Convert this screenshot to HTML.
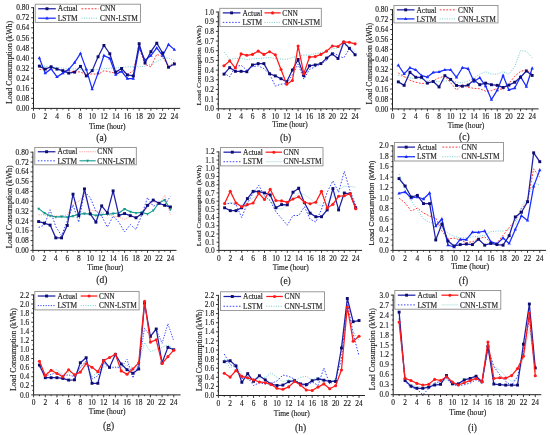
<!DOCTYPE html><html><head><meta charset="utf-8"><title>Load consumption forecasts</title><style>html,body{margin:0;padding:0;background:#fff;}svg{display:block;font-family:"Liberation Serif", serif;filter:blur(0.3px);}text{stroke:#1e1e1e;stroke-width:0.15px;}</style></head><body>
<svg width="550" height="435" viewBox="0 0 550 435">
<rect width="550" height="435" fill="#fff"/>
<g><path d="M33.5 7.18 V108.4 H180.2" fill="none" stroke="#222" stroke-width="1"/>
<text transform="translate(29.2,111) scale(0.93,1)" font-size="8.0" text-anchor="end" fill="#1e1e1e">0.00</text>
<text transform="translate(29.2,100.93) scale(0.93,1)" font-size="8.0" text-anchor="end" fill="#1e1e1e">0.08</text>
<text transform="translate(29.2,90.86) scale(0.93,1)" font-size="8.0" text-anchor="end" fill="#1e1e1e">0.16</text>
<text transform="translate(29.2,80.78) scale(0.93,1)" font-size="8.0" text-anchor="end" fill="#1e1e1e">0.24</text>
<text transform="translate(29.2,70.71) scale(0.93,1)" font-size="8.0" text-anchor="end" fill="#1e1e1e">0.32</text>
<text transform="translate(29.2,60.64) scale(0.93,1)" font-size="8.0" text-anchor="end" fill="#1e1e1e">0.40</text>
<text transform="translate(29.2,50.57) scale(0.93,1)" font-size="8.0" text-anchor="end" fill="#1e1e1e">0.48</text>
<text transform="translate(29.2,40.5) scale(0.93,1)" font-size="8.0" text-anchor="end" fill="#1e1e1e">0.56</text>
<text transform="translate(29.2,30.42) scale(0.93,1)" font-size="8.0" text-anchor="end" fill="#1e1e1e">0.64</text>
<text transform="translate(29.2,20.35) scale(0.93,1)" font-size="8.0" text-anchor="end" fill="#1e1e1e">0.72</text>
<text transform="translate(29.2,10.28) scale(0.93,1)" font-size="8.0" text-anchor="end" fill="#1e1e1e">0.80</text>
<text transform="translate(33.5,118.7) scale(0.93,1)" font-size="8.0" text-anchor="middle" fill="#1e1e1e">0</text>
<text transform="translate(45.24,118.7) scale(0.93,1)" font-size="8.0" text-anchor="middle" fill="#1e1e1e">2</text>
<text transform="translate(56.98,118.7) scale(0.93,1)" font-size="8.0" text-anchor="middle" fill="#1e1e1e">4</text>
<text transform="translate(68.72,118.7) scale(0.93,1)" font-size="8.0" text-anchor="middle" fill="#1e1e1e">6</text>
<text transform="translate(80.46,118.7) scale(0.93,1)" font-size="8.0" text-anchor="middle" fill="#1e1e1e">8</text>
<text transform="translate(92.2,118.7) scale(0.93,1)" font-size="8.0" text-anchor="middle" fill="#1e1e1e">10</text>
<text transform="translate(103.94,118.7) scale(0.93,1)" font-size="8.0" text-anchor="middle" fill="#1e1e1e">12</text>
<text transform="translate(115.68,118.7) scale(0.93,1)" font-size="8.0" text-anchor="middle" fill="#1e1e1e">14</text>
<text transform="translate(127.42,118.7) scale(0.93,1)" font-size="8.0" text-anchor="middle" fill="#1e1e1e">16</text>
<text transform="translate(139.16,118.7) scale(0.93,1)" font-size="8.0" text-anchor="middle" fill="#1e1e1e">18</text>
<text transform="translate(150.9,118.7) scale(0.93,1)" font-size="8.0" text-anchor="middle" fill="#1e1e1e">20</text>
<text transform="translate(162.64,118.7) scale(0.93,1)" font-size="8.0" text-anchor="middle" fill="#1e1e1e">22</text>
<text transform="translate(174.38,118.7) scale(0.93,1)" font-size="8.0" text-anchor="middle" fill="#1e1e1e">24</text>
<path d="M31.1 108.4H33.5M32.2 103.36H33.5M31.1 98.33H33.5M32.2 93.29H33.5M31.1 88.26H33.5M32.2 83.22H33.5M31.1 78.18H33.5M32.2 73.15H33.5M31.1 68.11H33.5M32.2 63.08H33.5M31.1 58.04H33.5M32.2 53H33.5M31.1 47.97H33.5M32.2 42.93H33.5M31.1 37.9H33.5M32.2 32.86H33.5M31.1 27.82H33.5M32.2 22.79H33.5M31.1 17.75H33.5M32.2 12.72H33.5M31.1 7.68H33.5M33.5 108.4V110.8M39.37 108.4V109.7M45.24 108.4V110.8M51.11 108.4V109.7M56.98 108.4V110.8M62.85 108.4V109.7M68.72 108.4V110.8M74.59 108.4V109.7M80.46 108.4V110.8M86.33 108.4V109.7M92.2 108.4V110.8M98.07 108.4V109.7M103.94 108.4V110.8M109.81 108.4V109.7M115.68 108.4V110.8M121.55 108.4V109.7M127.42 108.4V110.8M133.29 108.4V109.7M139.16 108.4V110.8M145.03 108.4V109.7M150.9 108.4V110.8M156.77 108.4V109.7M162.64 108.4V110.8M168.51 108.4V109.7M174.38 108.4V110.8" stroke="#222" stroke-width="0.9"/>
<path d="M39.37 64.96 L45.24 66.22 L51.11 66.85 L56.98 67.48 L62.85 68.11 L68.72 68.74 L74.59 68.74 L80.46 69.37 L86.33 69.37 L92.2 70 L98.07 69.37 L103.94 68.74 L109.81 68.11 L115.68 68.11 L121.55 67.48 L127.42 66.85 L133.29 66.85 L139.16 66.85 L145.03 66.22 L150.9 64.34 L156.77 61.82 L162.64 58.04 L168.51 58.04 L174.38 60.56" fill="none" stroke="#40bcbc" stroke-width="0.75" stroke-linejoin="round" stroke-dasharray="1,1.4"/>
<path d="M39.37 69.37 L45.24 69.37 L51.11 67.48 L56.98 68.74 L62.85 70.63 L68.72 70.63 L74.59 71.89 L80.46 71.89 L86.33 75.04 L92.2 73.78 L98.07 74.41 L103.94 70.63 L109.81 71.89 L115.68 73.15 L121.55 70.63 L127.42 74.41 L133.29 70.63 L139.16 47.97 L145.03 64.34 L150.9 66.85 L156.77 54.26 L162.64 56.78 L168.51 66.85 L174.38 61.82" fill="none" stroke="#ff3030" stroke-width="0.95" stroke-linejoin="round" stroke-dasharray="1.8,1.5"/>
<path d="M39.37 58.04 L45.24 73.15 L51.11 68.87 L56.98 76.93 L62.85 73.15 L68.72 69.37 L74.59 62.57 L80.46 53.38 L86.33 69.37 L92.2 89.14 L98.07 73.15 L103.94 55.52 L109.81 58.42 L115.68 74.66 L121.55 71.26 L127.42 78.56 L133.29 78.56 L139.16 47.34 L145.03 60.18 L150.9 55.52 L156.77 47.97 L162.64 55.52 L168.51 44.57 L174.38 49.6" fill="none" stroke="#1a2cff" stroke-width="1.25" stroke-linejoin="round"/><path d="M39.37 56.09L41.07 59.21L37.67 59.21Z" fill="#1a2cff"/><path d="M45.24 71.19L46.94 74.32L43.54 74.32Z" fill="#1a2cff"/><path d="M51.11 66.91L52.81 70.04L49.41 70.04Z" fill="#1a2cff"/><path d="M56.98 74.97L58.68 78.1L55.28 78.1Z" fill="#1a2cff"/><path d="M62.85 71.19L64.55 74.32L61.15 74.32Z" fill="#1a2cff"/><path d="M68.72 67.42L70.42 70.54L67.02 70.54Z" fill="#1a2cff"/><path d="M74.59 60.62L76.29 63.75L72.89 63.75Z" fill="#1a2cff"/><path d="M80.46 51.43L82.16 54.55L78.76 54.55Z" fill="#1a2cff"/><path d="M86.33 67.42L88.03 70.54L84.63 70.54Z" fill="#1a2cff"/><path d="M92.2 87.18L93.9 90.31L90.5 90.31Z" fill="#1a2cff"/><path d="M98.07 71.19L99.77 74.32L96.37 74.32Z" fill="#1a2cff"/><path d="M103.94 53.57L105.64 56.7L102.24 56.7Z" fill="#1a2cff"/><path d="M109.81 56.46L111.51 59.59L108.11 59.59Z" fill="#1a2cff"/><path d="M115.68 72.7L117.38 75.83L113.98 75.83Z" fill="#1a2cff"/><path d="M121.55 69.3L123.25 72.43L119.85 72.43Z" fill="#1a2cff"/><path d="M127.42 76.61L129.12 79.73L125.72 79.73Z" fill="#1a2cff"/><path d="M133.29 76.61L134.99 79.73L131.59 79.73Z" fill="#1a2cff"/><path d="M139.16 45.38L140.86 48.51L137.46 48.51Z" fill="#1a2cff"/><path d="M145.03 58.23L146.73 61.35L143.33 61.35Z" fill="#1a2cff"/><path d="M150.9 53.57L152.6 56.7L149.2 56.7Z" fill="#1a2cff"/><path d="M156.77 46.01L158.47 49.14L155.07 49.14Z" fill="#1a2cff"/><path d="M162.64 53.57L164.34 56.7L160.94 56.7Z" fill="#1a2cff"/><path d="M168.51 42.61L170.21 45.74L166.81 45.74Z" fill="#1a2cff"/><path d="M174.38 47.65L176.08 50.78L172.68 50.78Z" fill="#1a2cff"/>
<path d="M39.37 66.1 L45.24 69.12 L51.11 66.73 L56.98 69.12 L62.85 70.63 L68.72 73.15 L74.59 72.14 L80.46 66.35 L86.33 75.92 L92.2 70.63 L98.07 56.78 L103.94 45.45 L109.81 53.76 L115.68 72.14 L121.55 68.49 L127.42 74.91 L133.29 75.92 L139.16 43.69 L145.03 63.08 L150.9 51.62 L156.77 43.18 L162.64 53 L168.51 67.23 L174.38 63.96" fill="none" stroke="#1e1ea6" stroke-width="1.25" stroke-linejoin="round"/><rect x="37.92" y="64.65" width="2.9" height="2.9" fill="#0c0c70"/><rect x="43.79" y="67.67" width="2.9" height="2.9" fill="#0c0c70"/><rect x="49.66" y="65.28" width="2.9" height="2.9" fill="#0c0c70"/><rect x="55.53" y="67.67" width="2.9" height="2.9" fill="#0c0c70"/><rect x="61.4" y="69.18" width="2.9" height="2.9" fill="#0c0c70"/><rect x="67.27" y="71.7" width="2.9" height="2.9" fill="#0c0c70"/><rect x="73.14" y="70.69" width="2.9" height="2.9" fill="#0c0c70"/><rect x="79.01" y="64.9" width="2.9" height="2.9" fill="#0c0c70"/><rect x="84.88" y="74.47" width="2.9" height="2.9" fill="#0c0c70"/><rect x="90.75" y="69.18" width="2.9" height="2.9" fill="#0c0c70"/><rect x="96.62" y="55.33" width="2.9" height="2.9" fill="#0c0c70"/><rect x="102.49" y="44" width="2.9" height="2.9" fill="#0c0c70"/><rect x="108.36" y="52.31" width="2.9" height="2.9" fill="#0c0c70"/><rect x="114.23" y="70.69" width="2.9" height="2.9" fill="#0c0c70"/><rect x="120.1" y="67.04" width="2.9" height="2.9" fill="#0c0c70"/><rect x="125.97" y="73.46" width="2.9" height="2.9" fill="#0c0c70"/><rect x="131.84" y="74.47" width="2.9" height="2.9" fill="#0c0c70"/><rect x="137.71" y="42.24" width="2.9" height="2.9" fill="#0c0c70"/><rect x="143.58" y="61.63" width="2.9" height="2.9" fill="#0c0c70"/><rect x="149.45" y="50.17" width="2.9" height="2.9" fill="#0c0c70"/><rect x="155.32" y="41.73" width="2.9" height="2.9" fill="#0c0c70"/><rect x="161.19" y="51.55" width="2.9" height="2.9" fill="#0c0c70"/><rect x="167.06" y="65.78" width="2.9" height="2.9" fill="#0c0c70"/><rect x="172.93" y="62.51" width="2.9" height="2.9" fill="#0c0c70"/>
<rect x="35.2" y="4.2" width="105.3" height="18.2" fill="#fff" stroke="#888" stroke-width="0.85"/>
<path d="M38.2 8.75 L55.8 8.75" fill="none" stroke="#1e1ea6" stroke-width="1.25" stroke-linejoin="round"/>
<rect x="45.55" y="7.3" width="2.9" height="2.9" fill="#0c0c70"/>
<text transform="translate(57.8,11.45) scale(0.93,1)" font-size="8.0" text-anchor="start" fill="#1e1e1e">Actual</text>
<path d="M81.53 8.75 L98.38 8.75" fill="none" stroke="#ff3030" stroke-width="0.95" stroke-linejoin="round" stroke-dasharray="1.8,1.5"/>
<text transform="translate(99.96,11.45) scale(0.93,1)" font-size="8.0" text-anchor="start" fill="#1e1e1e">CNN</text>
<path d="M38.2 18.21 L55.8 18.21" fill="none" stroke="#1a2cff" stroke-width="1.25" stroke-linejoin="round"/>
<path d="M47 16.26L48.7 19.39L45.3 19.39Z" fill="#1a2cff"/>
<text transform="translate(57.8,20.91) scale(0.93,1)" font-size="8.0" text-anchor="start" fill="#1e1e1e">LSTM</text>
<path d="M81.53 18.21 L98.38 18.21" fill="none" stroke="#40bcbc" stroke-width="0.75" stroke-linejoin="round" stroke-dasharray="1,1.4"/>
<text transform="translate(99.96,20.91) scale(0.93,1)" font-size="8.0" text-anchor="start" fill="#1e1e1e">CNN-LSTM</text>
<text transform="translate(11.77,62.45) rotate(-90) scale(1,0.93)" font-size="7.9" text-anchor="middle" fill="#1e1e1e">Load Consumption (kWh)</text>
<text transform="translate(107.3,129.3) scale(0.93,1)" font-size="8.2" text-anchor="middle" fill="#1e1e1e">Time (hour)</text>
<text transform="translate(101.5,141.4) scale(1.0,1)" font-size="9.5" text-anchor="middle" fill="#1e1e1e">(a)</text></g>
<g><path d="M218.3 11.5 V108.8 H360.6" fill="none" stroke="#222" stroke-width="1"/>
<text transform="translate(214,111.4) scale(0.93,1)" font-size="8.0" text-anchor="end" fill="#1e1e1e">0.0</text>
<text transform="translate(214,101.72) scale(0.93,1)" font-size="8.0" text-anchor="end" fill="#1e1e1e">0.1</text>
<text transform="translate(214,92.04) scale(0.93,1)" font-size="8.0" text-anchor="end" fill="#1e1e1e">0.2</text>
<text transform="translate(214,82.36) scale(0.93,1)" font-size="8.0" text-anchor="end" fill="#1e1e1e">0.3</text>
<text transform="translate(214,72.68) scale(0.93,1)" font-size="8.0" text-anchor="end" fill="#1e1e1e">0.4</text>
<text transform="translate(214,63) scale(0.93,1)" font-size="8.0" text-anchor="end" fill="#1e1e1e">0.5</text>
<text transform="translate(214,53.32) scale(0.93,1)" font-size="8.0" text-anchor="end" fill="#1e1e1e">0.6</text>
<text transform="translate(214,43.64) scale(0.93,1)" font-size="8.0" text-anchor="end" fill="#1e1e1e">0.7</text>
<text transform="translate(214,33.96) scale(0.93,1)" font-size="8.0" text-anchor="end" fill="#1e1e1e">0.8</text>
<text transform="translate(214,24.28) scale(0.93,1)" font-size="8.0" text-anchor="end" fill="#1e1e1e">0.9</text>
<text transform="translate(214,14.6) scale(0.93,1)" font-size="8.0" text-anchor="end" fill="#1e1e1e">1.0</text>
<text transform="translate(218.3,119.1) scale(0.93,1)" font-size="8.0" text-anchor="middle" fill="#1e1e1e">0</text>
<text transform="translate(229.7,119.1) scale(0.93,1)" font-size="8.0" text-anchor="middle" fill="#1e1e1e">2</text>
<text transform="translate(241.1,119.1) scale(0.93,1)" font-size="8.0" text-anchor="middle" fill="#1e1e1e">4</text>
<text transform="translate(252.5,119.1) scale(0.93,1)" font-size="8.0" text-anchor="middle" fill="#1e1e1e">6</text>
<text transform="translate(263.9,119.1) scale(0.93,1)" font-size="8.0" text-anchor="middle" fill="#1e1e1e">8</text>
<text transform="translate(275.3,119.1) scale(0.93,1)" font-size="8.0" text-anchor="middle" fill="#1e1e1e">10</text>
<text transform="translate(286.7,119.1) scale(0.93,1)" font-size="8.0" text-anchor="middle" fill="#1e1e1e">12</text>
<text transform="translate(298.1,119.1) scale(0.93,1)" font-size="8.0" text-anchor="middle" fill="#1e1e1e">14</text>
<text transform="translate(309.5,119.1) scale(0.93,1)" font-size="8.0" text-anchor="middle" fill="#1e1e1e">16</text>
<text transform="translate(320.9,119.1) scale(0.93,1)" font-size="8.0" text-anchor="middle" fill="#1e1e1e">18</text>
<text transform="translate(332.3,119.1) scale(0.93,1)" font-size="8.0" text-anchor="middle" fill="#1e1e1e">20</text>
<text transform="translate(343.7,119.1) scale(0.93,1)" font-size="8.0" text-anchor="middle" fill="#1e1e1e">22</text>
<text transform="translate(355.1,119.1) scale(0.93,1)" font-size="8.0" text-anchor="middle" fill="#1e1e1e">24</text>
<path d="M215.9 108.8H218.3M217 103.96H218.3M215.9 99.12H218.3M217 94.28H218.3M215.9 89.44H218.3M217 84.6H218.3M215.9 79.76H218.3M217 74.92H218.3M215.9 70.08H218.3M217 65.24H218.3M215.9 60.4H218.3M217 55.56H218.3M215.9 50.72H218.3M217 45.88H218.3M215.9 41.04H218.3M217 36.2H218.3M215.9 31.36H218.3M217 26.52H218.3M215.9 21.68H218.3M217 16.84H218.3M215.9 12H218.3M218.3 108.8V111.2M224 108.8V110.1M229.7 108.8V111.2M235.4 108.8V110.1M241.1 108.8V111.2M246.8 108.8V110.1M252.5 108.8V111.2M258.2 108.8V110.1M263.9 108.8V111.2M269.6 108.8V110.1M275.3 108.8V111.2M281 108.8V110.1M286.7 108.8V111.2M292.4 108.8V110.1M298.1 108.8V111.2M303.8 108.8V110.1M309.5 108.8V111.2M315.2 108.8V110.1M320.9 108.8V111.2M326.6 108.8V110.1M332.3 108.8V111.2M338 108.8V110.1M343.7 108.8V111.2M349.4 108.8V110.1M355.1 108.8V111.2" stroke="#222" stroke-width="0.9"/>
<path d="M224 51.98 L229.7 59.43 L235.4 58.46 L241.1 58.46 L246.8 59.43 L252.5 58.95 L258.2 58.46 L263.9 57.98 L269.6 57.59 L275.3 58.46 L281 58.95 L286.7 59.43 L292.4 57.5 L298.1 56.04 L303.8 55.08 L309.5 55.08 L315.2 53.62 L320.9 52.66 L326.6 50.72 L332.3 48.78 L338 47.82 L343.7 44.91 L349.4 45.88 L355.1 51.69" fill="none" stroke="#40bcbc" stroke-width="0.75" stroke-linejoin="round" stroke-dasharray="1,1.4"/>
<path d="M224 72.98 L229.7 76.86 L235.4 66.69 L241.1 65.34 L246.8 70.08 L252.5 66.69 L258.2 65.82 L263.9 68.63 L269.6 74.15 L275.3 86.05 L281 84.21 L286.7 83.63 L292.4 74.92 L298.1 63.98 L303.8 79.18 L309.5 69.5 L315.2 66.79 L320.9 63.98 L326.6 60.3 L332.3 51.98 L338 55.56 L343.7 57.98 L349.4 48.78 L355.1 54.59" fill="none" stroke="#3344ff" stroke-width="1.0" stroke-linejoin="round" stroke-dasharray="1.5,1.6"/>
<path d="M224 74.15 L229.7 67.66 L235.4 71.34 L241.1 71.34 L246.8 71.73 L252.5 64.95 L258.2 63.59 L263.9 63.59 L269.6 73.76 L275.3 75.89 L281 78.7 L286.7 81.7 L292.4 70.08 L298.1 59.43 L303.8 75.6 L309.5 65.82 L315.2 64.95 L320.9 63.59 L326.6 58.08 L332.3 53.91 L338 58.46 L343.7 42.3 L349.4 48.4 L355.1 54.79" fill="none" stroke="#1e1ea6" stroke-width="1.25" stroke-linejoin="round"/><rect x="222.55" y="72.7" width="2.9" height="2.9" fill="#0c0c70"/><rect x="228.25" y="66.21" width="2.9" height="2.9" fill="#0c0c70"/><rect x="233.95" y="69.89" width="2.9" height="2.9" fill="#0c0c70"/><rect x="239.65" y="69.89" width="2.9" height="2.9" fill="#0c0c70"/><rect x="245.35" y="70.28" width="2.9" height="2.9" fill="#0c0c70"/><rect x="251.05" y="63.5" width="2.9" height="2.9" fill="#0c0c70"/><rect x="256.75" y="62.14" width="2.9" height="2.9" fill="#0c0c70"/><rect x="262.45" y="62.14" width="2.9" height="2.9" fill="#0c0c70"/><rect x="268.15" y="72.31" width="2.9" height="2.9" fill="#0c0c70"/><rect x="273.85" y="74.44" width="2.9" height="2.9" fill="#0c0c70"/><rect x="279.55" y="77.25" width="2.9" height="2.9" fill="#0c0c70"/><rect x="285.25" y="80.25" width="2.9" height="2.9" fill="#0c0c70"/><rect x="290.95" y="68.63" width="2.9" height="2.9" fill="#0c0c70"/><rect x="296.65" y="57.98" width="2.9" height="2.9" fill="#0c0c70"/><rect x="302.35" y="74.15" width="2.9" height="2.9" fill="#0c0c70"/><rect x="308.05" y="64.37" width="2.9" height="2.9" fill="#0c0c70"/><rect x="313.75" y="63.5" width="2.9" height="2.9" fill="#0c0c70"/><rect x="319.45" y="62.14" width="2.9" height="2.9" fill="#0c0c70"/><rect x="325.15" y="56.63" width="2.9" height="2.9" fill="#0c0c70"/><rect x="330.85" y="52.46" width="2.9" height="2.9" fill="#0c0c70"/><rect x="336.55" y="57.01" width="2.9" height="2.9" fill="#0c0c70"/><rect x="342.25" y="40.85" width="2.9" height="2.9" fill="#0c0c70"/><rect x="347.95" y="46.95" width="2.9" height="2.9" fill="#0c0c70"/><rect x="353.65" y="53.34" width="2.9" height="2.9" fill="#0c0c70"/>
<path d="M224 65.82 L229.7 60.88 L235.4 68.05 L241.1 53.91 L246.8 55.27 L252.5 54.4 L258.2 51.11 L263.9 54.4 L269.6 51.69 L275.3 54.79 L281 69.5 L286.7 84.21 L292.4 80.53 L298.1 45.98 L303.8 73.66 L309.5 57.01 L315.2 56.62 L320.9 54.4 L326.6 51.11 L332.3 45.98 L338 46.56 L343.7 41.91 L349.4 42.3 L355.1 43.85" fill="none" stroke="#ff1a1a" stroke-width="1.25" stroke-linejoin="round"/><circle cx="224" cy="65.82" r="1.55" fill="#ff1a1a"/><circle cx="229.7" cy="60.88" r="1.55" fill="#ff1a1a"/><circle cx="235.4" cy="68.05" r="1.55" fill="#ff1a1a"/><circle cx="241.1" cy="53.91" r="1.55" fill="#ff1a1a"/><circle cx="246.8" cy="55.27" r="1.55" fill="#ff1a1a"/><circle cx="252.5" cy="54.4" r="1.55" fill="#ff1a1a"/><circle cx="258.2" cy="51.11" r="1.55" fill="#ff1a1a"/><circle cx="263.9" cy="54.4" r="1.55" fill="#ff1a1a"/><circle cx="269.6" cy="51.69" r="1.55" fill="#ff1a1a"/><circle cx="275.3" cy="54.79" r="1.55" fill="#ff1a1a"/><circle cx="281" cy="69.5" r="1.55" fill="#ff1a1a"/><circle cx="286.7" cy="84.21" r="1.55" fill="#ff1a1a"/><circle cx="292.4" cy="80.53" r="1.55" fill="#ff1a1a"/><circle cx="298.1" cy="45.98" r="1.55" fill="#ff1a1a"/><circle cx="303.8" cy="73.66" r="1.55" fill="#ff1a1a"/><circle cx="309.5" cy="57.01" r="1.55" fill="#ff1a1a"/><circle cx="315.2" cy="56.62" r="1.55" fill="#ff1a1a"/><circle cx="320.9" cy="54.4" r="1.55" fill="#ff1a1a"/><circle cx="326.6" cy="51.11" r="1.55" fill="#ff1a1a"/><circle cx="332.3" cy="45.98" r="1.55" fill="#ff1a1a"/><circle cx="338" cy="46.56" r="1.55" fill="#ff1a1a"/><circle cx="343.7" cy="41.91" r="1.55" fill="#ff1a1a"/><circle cx="349.4" cy="42.3" r="1.55" fill="#ff1a1a"/><circle cx="355.1" cy="43.85" r="1.55" fill="#ff1a1a"/>
<rect x="219.8" y="8.3" width="101.5" height="18.3" fill="#fff" stroke="#888" stroke-width="0.85"/>
<path d="M222.8 12.88 L240.4 12.88" fill="none" stroke="#1e1ea6" stroke-width="1.25" stroke-linejoin="round"/>
<rect x="230.15" y="11.43" width="2.9" height="2.9" fill="#0c0c70"/>
<text transform="translate(242.4,15.57) scale(0.93,1)" font-size="8.0" text-anchor="start" fill="#1e1e1e">Actual</text>
<path d="M264.46 12.88 L280.7 12.88" fill="none" stroke="#ff1a1a" stroke-width="1.25" stroke-linejoin="round"/>
<circle cx="272.58" cy="12.88" r="1.55" fill="#ff1a1a"/>
<text transform="translate(282.22,15.57) scale(0.93,1)" font-size="8.0" text-anchor="start" fill="#1e1e1e">CNN</text>
<path d="M222.8 22.39 L240.4 22.39" fill="none" stroke="#3344ff" stroke-width="1.0" stroke-linejoin="round" stroke-dasharray="1.5,1.6"/>
<text transform="translate(242.4,25.09) scale(0.93,1)" font-size="8.0" text-anchor="start" fill="#1e1e1e">LSTM</text>
<path d="M264.46 22.39 L280.7 22.39" fill="none" stroke="#40bcbc" stroke-width="0.75" stroke-linejoin="round" stroke-dasharray="1,1.4"/>
<text transform="translate(282.22,25.09) scale(0.93,1)" font-size="8.0" text-anchor="start" fill="#1e1e1e">CNN-LSTM</text>
<text transform="translate(201.36,65.45) rotate(-90) scale(1,0.93)" font-size="7.6" text-anchor="middle" fill="#1e1e1e">Load Consumption (kWh)</text>
<text transform="translate(289.9,127.3) scale(0.93,1)" font-size="7.9" text-anchor="middle" fill="#1e1e1e">Time (hour)</text>
<text transform="translate(285.5,140.9) scale(1.0,1)" font-size="9.5" text-anchor="middle" fill="#1e1e1e">(b)</text></g>
<g><path d="M392.5 9.2 V108.9 H538.6" fill="none" stroke="#222" stroke-width="1"/>
<text transform="translate(388.2,111.5) scale(0.93,1)" font-size="8.0" text-anchor="end" fill="#1e1e1e">0.00</text>
<text transform="translate(388.2,101.58) scale(0.93,1)" font-size="8.0" text-anchor="end" fill="#1e1e1e">0.08</text>
<text transform="translate(388.2,91.66) scale(0.93,1)" font-size="8.0" text-anchor="end" fill="#1e1e1e">0.16</text>
<text transform="translate(388.2,81.74) scale(0.93,1)" font-size="8.0" text-anchor="end" fill="#1e1e1e">0.24</text>
<text transform="translate(388.2,71.82) scale(0.93,1)" font-size="8.0" text-anchor="end" fill="#1e1e1e">0.32</text>
<text transform="translate(388.2,61.9) scale(0.93,1)" font-size="8.0" text-anchor="end" fill="#1e1e1e">0.40</text>
<text transform="translate(388.2,51.98) scale(0.93,1)" font-size="8.0" text-anchor="end" fill="#1e1e1e">0.48</text>
<text transform="translate(388.2,42.06) scale(0.93,1)" font-size="8.0" text-anchor="end" fill="#1e1e1e">0.56</text>
<text transform="translate(388.2,32.14) scale(0.93,1)" font-size="8.0" text-anchor="end" fill="#1e1e1e">0.64</text>
<text transform="translate(388.2,22.22) scale(0.93,1)" font-size="8.0" text-anchor="end" fill="#1e1e1e">0.72</text>
<text transform="translate(388.2,12.3) scale(0.93,1)" font-size="8.0" text-anchor="end" fill="#1e1e1e">0.80</text>
<text transform="translate(392.5,119.2) scale(0.93,1)" font-size="8.0" text-anchor="middle" fill="#1e1e1e">0</text>
<text transform="translate(404.14,119.2) scale(0.93,1)" font-size="8.0" text-anchor="middle" fill="#1e1e1e">2</text>
<text transform="translate(415.78,119.2) scale(0.93,1)" font-size="8.0" text-anchor="middle" fill="#1e1e1e">4</text>
<text transform="translate(427.42,119.2) scale(0.93,1)" font-size="8.0" text-anchor="middle" fill="#1e1e1e">6</text>
<text transform="translate(439.06,119.2) scale(0.93,1)" font-size="8.0" text-anchor="middle" fill="#1e1e1e">8</text>
<text transform="translate(450.7,119.2) scale(0.93,1)" font-size="8.0" text-anchor="middle" fill="#1e1e1e">10</text>
<text transform="translate(462.34,119.2) scale(0.93,1)" font-size="8.0" text-anchor="middle" fill="#1e1e1e">12</text>
<text transform="translate(473.98,119.2) scale(0.93,1)" font-size="8.0" text-anchor="middle" fill="#1e1e1e">14</text>
<text transform="translate(485.62,119.2) scale(0.93,1)" font-size="8.0" text-anchor="middle" fill="#1e1e1e">16</text>
<text transform="translate(497.26,119.2) scale(0.93,1)" font-size="8.0" text-anchor="middle" fill="#1e1e1e">18</text>
<text transform="translate(508.9,119.2) scale(0.93,1)" font-size="8.0" text-anchor="middle" fill="#1e1e1e">20</text>
<text transform="translate(520.54,119.2) scale(0.93,1)" font-size="8.0" text-anchor="middle" fill="#1e1e1e">22</text>
<text transform="translate(532.18,119.2) scale(0.93,1)" font-size="8.0" text-anchor="middle" fill="#1e1e1e">24</text>
<path d="M390.1 108.9H392.5M391.2 103.94H392.5M390.1 98.98H392.5M391.2 94.02H392.5M390.1 89.06H392.5M391.2 84.1H392.5M390.1 79.14H392.5M391.2 74.18H392.5M390.1 69.22H392.5M391.2 64.26H392.5M390.1 59.3H392.5M391.2 54.34H392.5M390.1 49.38H392.5M391.2 44.42H392.5M390.1 39.46H392.5M391.2 34.5H392.5M390.1 29.54H392.5M391.2 24.58H392.5M390.1 19.62H392.5M391.2 14.66H392.5M390.1 9.7H392.5M392.5 108.9V111.3M398.32 108.9V110.2M404.14 108.9V111.3M409.96 108.9V110.2M415.78 108.9V111.3M421.6 108.9V110.2M427.42 108.9V111.3M433.24 108.9V110.2M439.06 108.9V111.3M444.88 108.9V110.2M450.7 108.9V111.3M456.52 108.9V110.2M462.34 108.9V111.3M468.16 108.9V110.2M473.98 108.9V111.3M479.8 108.9V110.2M485.62 108.9V111.3M491.44 108.9V110.2M497.26 108.9V111.3M503.08 108.9V110.2M508.9 108.9V111.3M514.72 108.9V110.2M520.54 108.9V111.3M526.36 108.9V110.2M532.18 108.9V111.3" stroke="#222" stroke-width="0.9"/>
<path d="M398.32 75.42 L404.14 76.66 L409.96 77.9 L415.78 78.52 L421.6 79.14 L427.42 80.38 L433.24 81 L439.06 81.62 L444.88 81 L450.7 80.38 L456.52 82.24 L462.34 82.86 L468.16 81 L473.98 77.9 L479.8 74.18 L485.62 71.7 L491.44 74.18 L497.26 74.18 L503.08 71.7 L508.9 74.18 L514.72 66.74 L520.54 50.62 L526.36 51.24 L532.18 57.69" fill="none" stroke="#40bcbc" stroke-width="0.75" stroke-linejoin="round" stroke-dasharray="1,1.4"/>
<path d="M398.32 72.94 L404.14 76.66 L409.96 80.26 L415.78 82.24 L421.6 83.48 L427.42 83.11 L433.24 81 L439.06 77.78 L444.88 76.16 L450.7 82.86 L456.52 89.93 L462.34 84.97 L468.16 87.45 L473.98 88.32 L479.8 88.81 L485.62 91.17 L491.44 90.67 L497.26 88.32 L503.08 89.68 L508.9 83.85 L514.72 76.16 L520.54 71.45 L526.36 69.84 L532.18 73.81" fill="none" stroke="#ff3030" stroke-width="0.95" stroke-linejoin="round" stroke-dasharray="1.8,1.5"/>
<path d="M398.32 65.25 L404.14 73.81 L409.96 67.73 L415.78 69.84 L421.6 75.67 L427.42 77.03 L433.24 72.44 L439.06 71.95 L444.88 69.84 L450.7 69.84 L456.52 77.28 L462.34 67.73 L468.16 68.72 L473.98 81.5 L479.8 77.78 L485.62 85.96 L491.44 99.6 L497.26 90.18 L503.08 75.42 L508.9 89.93 L514.72 88.07 L520.54 76.66 L526.36 86.46 L532.18 68.23" fill="none" stroke="#1a2cff" stroke-width="1.25" stroke-linejoin="round"/><path d="M398.32 63.3L400.02 66.43L396.62 66.43Z" fill="#1a2cff"/><path d="M404.14 71.85L405.84 74.98L402.44 74.98Z" fill="#1a2cff"/><path d="M409.96 65.78L411.66 68.91L408.26 68.91Z" fill="#1a2cff"/><path d="M415.78 67.89L417.48 71.01L414.08 71.01Z" fill="#1a2cff"/><path d="M421.6 73.71L423.3 76.84L419.9 76.84Z" fill="#1a2cff"/><path d="M427.42 75.08L429.12 78.21L425.72 78.21Z" fill="#1a2cff"/><path d="M433.24 70.49L434.94 73.62L431.54 73.62Z" fill="#1a2cff"/><path d="M439.06 69.99L440.76 73.12L437.36 73.12Z" fill="#1a2cff"/><path d="M444.88 67.89L446.58 71.01L443.18 71.01Z" fill="#1a2cff"/><path d="M450.7 67.89L452.4 71.01L449 71.01Z" fill="#1a2cff"/><path d="M456.52 75.33L458.22 78.45L454.82 78.45Z" fill="#1a2cff"/><path d="M462.34 65.78L464.04 68.91L460.64 68.91Z" fill="#1a2cff"/><path d="M468.16 66.77L469.86 69.9L466.46 69.9Z" fill="#1a2cff"/><path d="M473.98 79.54L475.68 82.67L472.28 82.67Z" fill="#1a2cff"/><path d="M479.8 75.82L481.5 78.95L478.1 78.95Z" fill="#1a2cff"/><path d="M485.62 84.01L487.32 87.13L483.92 87.13Z" fill="#1a2cff"/><path d="M491.44 97.65L493.14 100.77L489.74 100.77Z" fill="#1a2cff"/><path d="M497.26 88.22L498.96 91.35L495.56 91.35Z" fill="#1a2cff"/><path d="M503.08 73.47L504.78 76.59L501.38 76.59Z" fill="#1a2cff"/><path d="M508.9 87.97L510.6 91.1L507.2 91.1Z" fill="#1a2cff"/><path d="M514.72 86.11L516.42 89.24L513.02 89.24Z" fill="#1a2cff"/><path d="M520.54 74.7L522.24 77.83L518.84 77.83Z" fill="#1a2cff"/><path d="M526.36 84.5L528.06 87.63L524.66 87.63Z" fill="#1a2cff"/><path d="M532.18 66.27L533.88 69.4L530.48 69.4Z" fill="#1a2cff"/>
<path d="M398.32 81.87 L404.14 85.34 L409.96 72.2 L415.78 77.28 L421.6 77.4 L427.42 83.11 L433.24 81.5 L439.06 86.95 L444.88 75.67 L450.7 79.39 L456.52 85.46 L462.34 86.21 L468.16 85.09 L473.98 79.88 L479.8 84.72 L485.62 83.11 L491.44 84.72 L497.26 85.34 L503.08 87.45 L508.9 85.09 L514.72 82.24 L520.54 77.28 L526.36 70.96 L532.18 75.42" fill="none" stroke="#1e1ea6" stroke-width="1.25" stroke-linejoin="round"/><rect x="396.87" y="80.42" width="2.9" height="2.9" fill="#0c0c70"/><rect x="402.69" y="83.89" width="2.9" height="2.9" fill="#0c0c70"/><rect x="408.51" y="70.75" width="2.9" height="2.9" fill="#0c0c70"/><rect x="414.33" y="75.83" width="2.9" height="2.9" fill="#0c0c70"/><rect x="420.15" y="75.95" width="2.9" height="2.9" fill="#0c0c70"/><rect x="425.97" y="81.66" width="2.9" height="2.9" fill="#0c0c70"/><rect x="431.79" y="80.05" width="2.9" height="2.9" fill="#0c0c70"/><rect x="437.61" y="85.5" width="2.9" height="2.9" fill="#0c0c70"/><rect x="443.43" y="74.22" width="2.9" height="2.9" fill="#0c0c70"/><rect x="449.25" y="77.94" width="2.9" height="2.9" fill="#0c0c70"/><rect x="455.07" y="84.01" width="2.9" height="2.9" fill="#0c0c70"/><rect x="460.89" y="84.76" width="2.9" height="2.9" fill="#0c0c70"/><rect x="466.71" y="83.64" width="2.9" height="2.9" fill="#0c0c70"/><rect x="472.53" y="78.43" width="2.9" height="2.9" fill="#0c0c70"/><rect x="478.35" y="83.27" width="2.9" height="2.9" fill="#0c0c70"/><rect x="484.17" y="81.66" width="2.9" height="2.9" fill="#0c0c70"/><rect x="489.99" y="83.27" width="2.9" height="2.9" fill="#0c0c70"/><rect x="495.81" y="83.89" width="2.9" height="2.9" fill="#0c0c70"/><rect x="501.63" y="86" width="2.9" height="2.9" fill="#0c0c70"/><rect x="507.45" y="83.64" width="2.9" height="2.9" fill="#0c0c70"/><rect x="513.27" y="80.79" width="2.9" height="2.9" fill="#0c0c70"/><rect x="519.09" y="75.83" width="2.9" height="2.9" fill="#0c0c70"/><rect x="524.91" y="69.51" width="2.9" height="2.9" fill="#0c0c70"/><rect x="530.73" y="73.97" width="2.9" height="2.9" fill="#0c0c70"/>
<rect x="393.9" y="5.5" width="104.1" height="17.4" fill="#fff" stroke="#888" stroke-width="0.85"/>
<path d="M396.9 9.85 L414.5 9.85" fill="none" stroke="#1e1ea6" stroke-width="1.25" stroke-linejoin="round"/>
<rect x="404.25" y="8.4" width="2.9" height="2.9" fill="#0c0c70"/>
<text transform="translate(416.5,12.55) scale(0.93,1)" font-size="8.0" text-anchor="start" fill="#1e1e1e">Actual</text>
<path d="M439.7 9.85 L456.36 9.85" fill="none" stroke="#ff3030" stroke-width="0.95" stroke-linejoin="round" stroke-dasharray="1.8,1.5"/>
<text transform="translate(457.92,12.55) scale(0.93,1)" font-size="8.0" text-anchor="start" fill="#1e1e1e">CNN</text>
<path d="M396.9 18.9 L414.5 18.9" fill="none" stroke="#1a2cff" stroke-width="1.25" stroke-linejoin="round"/>
<path d="M405.7 16.94L407.4 20.07L404 20.07Z" fill="#1a2cff"/>
<text transform="translate(416.5,21.6) scale(0.93,1)" font-size="8.0" text-anchor="start" fill="#1e1e1e">LSTM</text>
<path d="M439.7 18.9 L456.36 18.9" fill="none" stroke="#40bcbc" stroke-width="0.75" stroke-linejoin="round" stroke-dasharray="1,1.4"/>
<text transform="translate(457.92,21.6) scale(0.93,1)" font-size="8.0" text-anchor="start" fill="#1e1e1e">CNN-LSTM</text>
<text transform="translate(371.61,63.75) rotate(-90) scale(1,0.93)" font-size="7.75" text-anchor="middle" fill="#1e1e1e">Load Consumption (kWh)</text>
<text transform="translate(466,127.7) scale(0.93,1)" font-size="8.15" text-anchor="middle" fill="#1e1e1e">Time (hour)</text>
<text transform="translate(464.3,139.6) scale(1.0,1)" font-size="9.5" text-anchor="middle" fill="#1e1e1e">(c)</text></g>
<g><path d="M32.9 151.7 V250.4 H176.5" fill="none" stroke="#222" stroke-width="1"/>
<text transform="translate(28.6,253) scale(0.93,1)" font-size="8.0" text-anchor="end" fill="#1e1e1e">0.00</text>
<text transform="translate(28.6,243.18) scale(0.93,1)" font-size="8.0" text-anchor="end" fill="#1e1e1e">0.08</text>
<text transform="translate(28.6,233.36) scale(0.93,1)" font-size="8.0" text-anchor="end" fill="#1e1e1e">0.16</text>
<text transform="translate(28.6,223.54) scale(0.93,1)" font-size="8.0" text-anchor="end" fill="#1e1e1e">0.24</text>
<text transform="translate(28.6,213.72) scale(0.93,1)" font-size="8.0" text-anchor="end" fill="#1e1e1e">0.32</text>
<text transform="translate(28.6,203.9) scale(0.93,1)" font-size="8.0" text-anchor="end" fill="#1e1e1e">0.40</text>
<text transform="translate(28.6,194.08) scale(0.93,1)" font-size="8.0" text-anchor="end" fill="#1e1e1e">0.48</text>
<text transform="translate(28.6,184.26) scale(0.93,1)" font-size="8.0" text-anchor="end" fill="#1e1e1e">0.56</text>
<text transform="translate(28.6,174.44) scale(0.93,1)" font-size="8.0" text-anchor="end" fill="#1e1e1e">0.64</text>
<text transform="translate(28.6,164.62) scale(0.93,1)" font-size="8.0" text-anchor="end" fill="#1e1e1e">0.72</text>
<text transform="translate(28.6,154.8) scale(0.93,1)" font-size="8.0" text-anchor="end" fill="#1e1e1e">0.80</text>
<text transform="translate(32.9,260.7) scale(0.93,1)" font-size="8.0" text-anchor="middle" fill="#1e1e1e">0</text>
<text transform="translate(44.36,260.7) scale(0.93,1)" font-size="8.0" text-anchor="middle" fill="#1e1e1e">2</text>
<text transform="translate(55.82,260.7) scale(0.93,1)" font-size="8.0" text-anchor="middle" fill="#1e1e1e">4</text>
<text transform="translate(67.28,260.7) scale(0.93,1)" font-size="8.0" text-anchor="middle" fill="#1e1e1e">6</text>
<text transform="translate(78.74,260.7) scale(0.93,1)" font-size="8.0" text-anchor="middle" fill="#1e1e1e">8</text>
<text transform="translate(90.2,260.7) scale(0.93,1)" font-size="8.0" text-anchor="middle" fill="#1e1e1e">10</text>
<text transform="translate(101.66,260.7) scale(0.93,1)" font-size="8.0" text-anchor="middle" fill="#1e1e1e">12</text>
<text transform="translate(113.12,260.7) scale(0.93,1)" font-size="8.0" text-anchor="middle" fill="#1e1e1e">14</text>
<text transform="translate(124.58,260.7) scale(0.93,1)" font-size="8.0" text-anchor="middle" fill="#1e1e1e">16</text>
<text transform="translate(136.04,260.7) scale(0.93,1)" font-size="8.0" text-anchor="middle" fill="#1e1e1e">18</text>
<text transform="translate(147.5,260.7) scale(0.93,1)" font-size="8.0" text-anchor="middle" fill="#1e1e1e">20</text>
<text transform="translate(158.96,260.7) scale(0.93,1)" font-size="8.0" text-anchor="middle" fill="#1e1e1e">22</text>
<text transform="translate(170.42,260.7) scale(0.93,1)" font-size="8.0" text-anchor="middle" fill="#1e1e1e">24</text>
<path d="M30.5 250.4H32.9M31.6 245.49H32.9M30.5 240.58H32.9M31.6 235.67H32.9M30.5 230.76H32.9M31.6 225.85H32.9M30.5 220.94H32.9M31.6 216.03H32.9M30.5 211.12H32.9M31.6 206.21H32.9M30.5 201.3H32.9M31.6 196.39H32.9M30.5 191.48H32.9M31.6 186.57H32.9M30.5 181.66H32.9M31.6 176.75H32.9M30.5 171.84H32.9M31.6 166.93H32.9M30.5 162.02H32.9M31.6 157.11H32.9M30.5 152.2H32.9M32.9 250.4V252.8M38.63 250.4V251.7M44.36 250.4V252.8M50.09 250.4V251.7M55.82 250.4V252.8M61.55 250.4V251.7M67.28 250.4V252.8M73.01 250.4V251.7M78.74 250.4V252.8M84.47 250.4V251.7M90.2 250.4V252.8M95.93 250.4V251.7M101.66 250.4V252.8M107.39 250.4V251.7M113.12 250.4V252.8M118.85 250.4V251.7M124.58 250.4V252.8M130.31 250.4V251.7M136.04 250.4V252.8M141.77 250.4V251.7M147.5 250.4V252.8M153.23 250.4V251.7M158.96 250.4V252.8M164.69 250.4V251.7M170.42 250.4V252.8" stroke="#222" stroke-width="0.9"/>
<path d="M38.63 214.8 L44.36 214.8 L50.09 216.03 L55.82 216.03 L61.55 216.03 L67.28 214.8 L73.01 204.12 L78.74 201.3 L84.47 194.55 L90.2 209.89 L95.93 211.12 L101.66 212.35 L107.39 214.8 L113.12 216.03 L118.85 217.26 L124.58 219.71 L130.31 216.03 L136.04 217.26 L141.77 213.58 L147.5 207.44 L153.23 201.3 L158.96 204.98 L164.69 195.29 L170.42 214.8" fill="none" stroke="#ff7070" stroke-width="0.7" stroke-linejoin="round" stroke-dasharray="1.1,1.1"/>
<path d="M38.63 227.45 L44.36 225.11 L50.09 209.77 L55.82 226.71 L61.55 235.55 L67.28 220.94 L73.01 204.98 L78.74 222.17 L84.47 191.48 L90.2 197.62 L95.93 211.12 L101.66 216.03 L107.39 227.08 L113.12 216.03 L118.85 222.17 L124.58 231.99 L130.31 224.62 L136.04 229.53 L141.77 214.8 L147.5 197.62 L153.23 206.21 L158.96 203.75 L164.69 204.98 L170.42 196.39" fill="none" stroke="#3344ff" stroke-width="1.0" stroke-linejoin="round" stroke-dasharray="1.5,1.6"/>
<path d="M38.63 208.66 L44.36 212.96 L50.09 215.66 L55.82 217.01 L61.55 216.64 L67.28 217.26 L73.01 216.15 L78.74 214.07 L84.47 213.58 L90.2 214.07 L95.93 215.42 L101.66 214.8 L107.39 214.31 L113.12 213.58 L118.85 212.96 L124.58 209.03 L130.31 211.86 L136.04 212.96 L141.77 212.35 L147.5 214.07 L153.23 210.63 L158.96 203.02 L164.69 200.07 L170.42 209.52" fill="none" stroke="#159a8e" stroke-width="1.1" stroke-linejoin="round"/><path d="M38.63 210.39L40.13 207.63L37.13 207.63Z" fill="#159a8e"/><path d="M44.36 214.69L45.86 211.93L42.86 211.93Z" fill="#159a8e"/><path d="M50.09 217.39L51.59 214.63L48.59 214.63Z" fill="#159a8e"/><path d="M55.82 218.74L57.32 215.98L54.32 215.98Z" fill="#159a8e"/><path d="M61.55 218.37L63.05 215.61L60.05 215.61Z" fill="#159a8e"/><path d="M67.28 218.98L68.78 216.22L65.78 216.22Z" fill="#159a8e"/><path d="M73.01 217.88L74.51 215.12L71.51 215.12Z" fill="#159a8e"/><path d="M78.74 215.79L80.24 213.03L77.24 213.03Z" fill="#159a8e"/><path d="M84.47 215.3L85.97 212.54L82.97 212.54Z" fill="#159a8e"/><path d="M90.2 215.79L91.7 213.03L88.7 213.03Z" fill="#159a8e"/><path d="M95.93 217.14L97.43 214.38L94.43 214.38Z" fill="#159a8e"/><path d="M101.66 216.53L103.16 213.77L100.16 213.77Z" fill="#159a8e"/><path d="M107.39 216.04L108.89 213.28L105.89 213.28Z" fill="#159a8e"/><path d="M113.12 215.3L114.62 212.54L111.62 212.54Z" fill="#159a8e"/><path d="M118.85 214.69L120.35 211.93L117.35 211.93Z" fill="#159a8e"/><path d="M124.58 210.76L126.08 208L123.08 208Z" fill="#159a8e"/><path d="M130.31 213.58L131.81 210.82L128.81 210.82Z" fill="#159a8e"/><path d="M136.04 214.69L137.54 211.93L134.54 211.93Z" fill="#159a8e"/><path d="M141.77 214.07L143.27 211.31L140.27 211.31Z" fill="#159a8e"/><path d="M147.5 215.79L149 213.03L146 213.03Z" fill="#159a8e"/><path d="M153.23 212.35L154.73 209.59L151.73 209.59Z" fill="#159a8e"/><path d="M158.96 204.74L160.46 201.98L157.46 201.98Z" fill="#159a8e"/><path d="M164.69 201.8L166.19 199.04L163.19 199.04Z" fill="#159a8e"/><path d="M170.42 211.25L171.92 208.49L168.92 208.49Z" fill="#159a8e"/>
<path d="M38.63 221.55 L44.36 223.15 L50.09 225.11 L55.82 237.88 L61.55 237.88 L67.28 225.48 L73.01 194.18 L78.74 215.66 L84.47 188.9 L90.2 213.82 L95.93 222.17 L101.66 205.84 L107.39 212.96 L113.12 190.87 L118.85 215.42 L124.58 213.58 L130.31 215.66 L136.04 217.75 L141.77 213.82 L147.5 205.35 L153.23 200.07 L158.96 203.26 L164.69 205.35 L170.42 206.95" fill="none" stroke="#1e1ea6" stroke-width="1.25" stroke-linejoin="round"/><rect x="37.18" y="220.1" width="2.9" height="2.9" fill="#0c0c70"/><rect x="42.91" y="221.7" width="2.9" height="2.9" fill="#0c0c70"/><rect x="48.64" y="223.66" width="2.9" height="2.9" fill="#0c0c70"/><rect x="54.37" y="236.43" width="2.9" height="2.9" fill="#0c0c70"/><rect x="60.1" y="236.43" width="2.9" height="2.9" fill="#0c0c70"/><rect x="65.83" y="224.03" width="2.9" height="2.9" fill="#0c0c70"/><rect x="71.56" y="192.73" width="2.9" height="2.9" fill="#0c0c70"/><rect x="77.29" y="214.21" width="2.9" height="2.9" fill="#0c0c70"/><rect x="83.02" y="187.45" width="2.9" height="2.9" fill="#0c0c70"/><rect x="88.75" y="212.37" width="2.9" height="2.9" fill="#0c0c70"/><rect x="94.48" y="220.72" width="2.9" height="2.9" fill="#0c0c70"/><rect x="100.21" y="204.39" width="2.9" height="2.9" fill="#0c0c70"/><rect x="105.94" y="211.51" width="2.9" height="2.9" fill="#0c0c70"/><rect x="111.67" y="189.42" width="2.9" height="2.9" fill="#0c0c70"/><rect x="117.4" y="213.97" width="2.9" height="2.9" fill="#0c0c70"/><rect x="123.13" y="212.13" width="2.9" height="2.9" fill="#0c0c70"/><rect x="128.86" y="214.21" width="2.9" height="2.9" fill="#0c0c70"/><rect x="134.59" y="216.3" width="2.9" height="2.9" fill="#0c0c70"/><rect x="140.32" y="212.37" width="2.9" height="2.9" fill="#0c0c70"/><rect x="146.05" y="203.9" width="2.9" height="2.9" fill="#0c0c70"/><rect x="151.78" y="198.62" width="2.9" height="2.9" fill="#0c0c70"/><rect x="157.51" y="201.81" width="2.9" height="2.9" fill="#0c0c70"/><rect x="163.24" y="203.9" width="2.9" height="2.9" fill="#0c0c70"/><rect x="168.97" y="205.5" width="2.9" height="2.9" fill="#0c0c70"/>
<rect x="34.8" y="147.4" width="101.5" height="17.4" fill="#fff" stroke="#888" stroke-width="0.85"/>
<path d="M37.8 151.75 L55.4 151.75" fill="none" stroke="#1e1ea6" stroke-width="1.25" stroke-linejoin="round"/>
<rect x="45.15" y="150.3" width="2.9" height="2.9" fill="#0c0c70"/>
<text transform="translate(57.4,154.45) scale(0.93,1)" font-size="8.0" text-anchor="start" fill="#1e1e1e">Actual</text>
<path d="M79.46 151.75 L95.7 151.75" fill="none" stroke="#ff7070" stroke-width="0.7" stroke-linejoin="round" stroke-dasharray="1.1,1.1"/>
<text transform="translate(97.22,154.45) scale(0.93,1)" font-size="8.0" text-anchor="start" fill="#1e1e1e">CNN</text>
<path d="M37.8 160.8 L55.4 160.8" fill="none" stroke="#3344ff" stroke-width="1.0" stroke-linejoin="round" stroke-dasharray="1.5,1.6"/>
<text transform="translate(57.4,163.5) scale(0.93,1)" font-size="8.0" text-anchor="start" fill="#1e1e1e">LSTM</text>
<path d="M79.46 160.8 L95.7 160.8" fill="none" stroke="#159a8e" stroke-width="1.1" stroke-linejoin="round"/>
<path d="M87.58 162.52L89.08 159.76L86.08 159.76Z" fill="#159a8e"/>
<text transform="translate(97.22,163.5) scale(0.93,1)" font-size="8.0" text-anchor="start" fill="#1e1e1e">CNN-LSTM</text>
<text transform="translate(12.17,206.9) rotate(-90) scale(1,0.93)" font-size="7.9" text-anchor="middle" fill="#1e1e1e">Load Consumption (kWh)</text>
<text transform="translate(105.3,269.5) scale(0.93,1)" font-size="8.0" text-anchor="middle" fill="#1e1e1e">Time (hour)</text>
<text transform="translate(101.9,282.7) scale(1.0,1)" font-size="9.5" text-anchor="middle" fill="#1e1e1e">(d)</text></g>
<g><path d="M218.9 151.38 V250.4 H362.1" fill="none" stroke="#222" stroke-width="1"/>
<text transform="translate(214.6,253) scale(0.93,1)" font-size="8.0" text-anchor="end" fill="#1e1e1e">0.0</text>
<text transform="translate(214.6,244.79) scale(0.93,1)" font-size="8.0" text-anchor="end" fill="#1e1e1e">0.1</text>
<text transform="translate(214.6,236.58) scale(0.93,1)" font-size="8.0" text-anchor="end" fill="#1e1e1e">0.2</text>
<text transform="translate(214.6,228.37) scale(0.93,1)" font-size="8.0" text-anchor="end" fill="#1e1e1e">0.3</text>
<text transform="translate(214.6,220.16) scale(0.93,1)" font-size="8.0" text-anchor="end" fill="#1e1e1e">0.4</text>
<text transform="translate(214.6,211.95) scale(0.93,1)" font-size="8.0" text-anchor="end" fill="#1e1e1e">0.5</text>
<text transform="translate(214.6,203.74) scale(0.93,1)" font-size="8.0" text-anchor="end" fill="#1e1e1e">0.6</text>
<text transform="translate(214.6,195.53) scale(0.93,1)" font-size="8.0" text-anchor="end" fill="#1e1e1e">0.7</text>
<text transform="translate(214.6,187.32) scale(0.93,1)" font-size="8.0" text-anchor="end" fill="#1e1e1e">0.8</text>
<text transform="translate(214.6,179.11) scale(0.93,1)" font-size="8.0" text-anchor="end" fill="#1e1e1e">0.9</text>
<text transform="translate(214.6,170.9) scale(0.93,1)" font-size="8.0" text-anchor="end" fill="#1e1e1e">1.0</text>
<text transform="translate(214.6,162.69) scale(0.93,1)" font-size="8.0" text-anchor="end" fill="#1e1e1e">1.1</text>
<text transform="translate(214.6,154.48) scale(0.93,1)" font-size="8.0" text-anchor="end" fill="#1e1e1e">1.2</text>
<text transform="translate(218.9,260.7) scale(0.93,1)" font-size="8.0" text-anchor="middle" fill="#1e1e1e">0</text>
<text transform="translate(230.3,260.7) scale(0.93,1)" font-size="8.0" text-anchor="middle" fill="#1e1e1e">2</text>
<text transform="translate(241.7,260.7) scale(0.93,1)" font-size="8.0" text-anchor="middle" fill="#1e1e1e">4</text>
<text transform="translate(253.1,260.7) scale(0.93,1)" font-size="8.0" text-anchor="middle" fill="#1e1e1e">6</text>
<text transform="translate(264.5,260.7) scale(0.93,1)" font-size="8.0" text-anchor="middle" fill="#1e1e1e">8</text>
<text transform="translate(275.9,260.7) scale(0.93,1)" font-size="8.0" text-anchor="middle" fill="#1e1e1e">10</text>
<text transform="translate(287.3,260.7) scale(0.93,1)" font-size="8.0" text-anchor="middle" fill="#1e1e1e">12</text>
<text transform="translate(298.7,260.7) scale(0.93,1)" font-size="8.0" text-anchor="middle" fill="#1e1e1e">14</text>
<text transform="translate(310.1,260.7) scale(0.93,1)" font-size="8.0" text-anchor="middle" fill="#1e1e1e">16</text>
<text transform="translate(321.5,260.7) scale(0.93,1)" font-size="8.0" text-anchor="middle" fill="#1e1e1e">18</text>
<text transform="translate(332.9,260.7) scale(0.93,1)" font-size="8.0" text-anchor="middle" fill="#1e1e1e">20</text>
<text transform="translate(344.3,260.7) scale(0.93,1)" font-size="8.0" text-anchor="middle" fill="#1e1e1e">22</text>
<text transform="translate(355.7,260.7) scale(0.93,1)" font-size="8.0" text-anchor="middle" fill="#1e1e1e">24</text>
<path d="M216.5 250.4H218.9M217.6 246.3H218.9M216.5 242.19H218.9M217.6 238.09H218.9M216.5 233.98H218.9M217.6 229.88H218.9M216.5 225.77H218.9M217.6 221.67H218.9M216.5 217.56H218.9M217.6 213.46H218.9M216.5 209.35H218.9M217.6 205.25H218.9M216.5 201.14H218.9M217.6 197.04H218.9M216.5 192.93H218.9M217.6 188.83H218.9M216.5 184.72H218.9M217.6 180.62H218.9M216.5 176.51H218.9M217.6 172.41H218.9M216.5 168.3H218.9M217.6 164.19H218.9M216.5 160.09H218.9M217.6 155.99H218.9M216.5 151.88H218.9M218.9 250.4V252.8M224.6 250.4V251.7M230.3 250.4V252.8M236 250.4V251.7M241.7 250.4V252.8M247.4 250.4V251.7M253.1 250.4V252.8M258.8 250.4V251.7M264.5 250.4V252.8M270.2 250.4V251.7M275.9 250.4V252.8M281.6 250.4V251.7M287.3 250.4V252.8M293 250.4V251.7M298.7 250.4V252.8M304.4 250.4V251.7M310.1 250.4V252.8M315.8 250.4V251.7M321.5 250.4V252.8M327.2 250.4V251.7M332.9 250.4V252.8M338.6 250.4V251.7M344.3 250.4V252.8M350 250.4V251.7M355.7 250.4V252.8" stroke="#222" stroke-width="0.9"/>
<path d="M224.6 204.42 L230.3 202.78 L236 202.78 L241.7 205.25 L247.4 202.78 L253.1 197.86 L258.8 194.57 L264.5 196.21 L270.2 201.14 L275.9 207.71 L281.6 209.35 L287.3 205.25 L293 198.68 L298.7 192.93 L304.4 194.57 L310.1 198.68 L315.8 203.6 L321.5 206.07 L327.2 204.42 L332.9 196.21 L338.6 189.65 L344.3 186.36 L350 186.36 L355.7 187.18" fill="none" stroke="#a4dcdc" stroke-width="0.6" stroke-linejoin="round"/>
<path d="M224.6 204.59 L230.3 203.03 L236 204.59 L241.7 217.56 L247.4 203.03 L253.1 193.34 L258.8 185.29 L264.5 195.8 L270.2 200.57 L275.9 211.81 L281.6 218.38 L287.3 225.2 L293 215.51 L298.7 215.51 L304.4 206.72 L310.1 219.2 L315.8 221.99 L321.5 209.35 L327.2 192.19 L332.9 180.86 L338.6 192.19 L344.3 171.34 L350 190.63 L355.7 205.25" fill="none" stroke="#3344ff" stroke-width="1.0" stroke-linejoin="round" stroke-dasharray="1.5,1.6"/>
<path d="M224.6 207.79 L230.3 210.66 L236 210.66 L241.7 207.79 L247.4 198.59 L253.1 191.37 L258.8 191.7 L264.5 192.93 L270.2 194.9 L275.9 207.79 L281.6 204.59 L287.3 204.83 L293 192.19 L298.7 188.17 L304.4 202.7 L310.1 213.13 L315.8 216.74 L321.5 216.74 L327.2 209.92 L332.9 188.58 L338.6 209.92 L344.3 193.01 L350 193.75 L355.7 207.71" fill="none" stroke="#1e1ea6" stroke-width="1.25" stroke-linejoin="round"/><rect x="223.15" y="206.34" width="2.9" height="2.9" fill="#0c0c70"/><rect x="228.85" y="209.21" width="2.9" height="2.9" fill="#0c0c70"/><rect x="234.55" y="209.21" width="2.9" height="2.9" fill="#0c0c70"/><rect x="240.25" y="206.34" width="2.9" height="2.9" fill="#0c0c70"/><rect x="245.95" y="197.14" width="2.9" height="2.9" fill="#0c0c70"/><rect x="251.65" y="189.92" width="2.9" height="2.9" fill="#0c0c70"/><rect x="257.35" y="190.25" width="2.9" height="2.9" fill="#0c0c70"/><rect x="263.05" y="191.48" width="2.9" height="2.9" fill="#0c0c70"/><rect x="268.75" y="193.45" width="2.9" height="2.9" fill="#0c0c70"/><rect x="274.45" y="206.34" width="2.9" height="2.9" fill="#0c0c70"/><rect x="280.15" y="203.14" width="2.9" height="2.9" fill="#0c0c70"/><rect x="285.85" y="203.38" width="2.9" height="2.9" fill="#0c0c70"/><rect x="291.55" y="190.74" width="2.9" height="2.9" fill="#0c0c70"/><rect x="297.25" y="186.72" width="2.9" height="2.9" fill="#0c0c70"/><rect x="302.95" y="201.25" width="2.9" height="2.9" fill="#0c0c70"/><rect x="308.65" y="211.68" width="2.9" height="2.9" fill="#0c0c70"/><rect x="314.35" y="215.29" width="2.9" height="2.9" fill="#0c0c70"/><rect x="320.05" y="215.29" width="2.9" height="2.9" fill="#0c0c70"/><rect x="325.75" y="208.47" width="2.9" height="2.9" fill="#0c0c70"/><rect x="331.45" y="187.13" width="2.9" height="2.9" fill="#0c0c70"/><rect x="337.15" y="208.47" width="2.9" height="2.9" fill="#0c0c70"/><rect x="342.85" y="191.56" width="2.9" height="2.9" fill="#0c0c70"/><rect x="348.55" y="192.3" width="2.9" height="2.9" fill="#0c0c70"/><rect x="354.25" y="206.26" width="2.9" height="2.9" fill="#0c0c70"/>
<path d="M224.6 203.52 L230.3 191.37 L236 203.03 L241.7 206.72 L247.4 204.59 L253.1 203.03 L258.8 193.34 L264.5 199.5 L270.2 189.32 L275.9 200.57 L281.6 200.89 L287.3 202.21 L293 199.01 L298.7 196.71 L304.4 202.21 L310.1 203.77 L315.8 202.21 L321.5 191.37 L327.2 208.04 L332.9 204.34 L338.6 196.21 L344.3 195.8 L350 193.75 L355.7 208.78" fill="none" stroke="#ff1a1a" stroke-width="1.25" stroke-linejoin="round"/><circle cx="224.6" cy="203.52" r="1.55" fill="#ff1a1a"/><circle cx="230.3" cy="191.37" r="1.55" fill="#ff1a1a"/><circle cx="236" cy="203.03" r="1.55" fill="#ff1a1a"/><circle cx="241.7" cy="206.72" r="1.55" fill="#ff1a1a"/><circle cx="247.4" cy="204.59" r="1.55" fill="#ff1a1a"/><circle cx="253.1" cy="203.03" r="1.55" fill="#ff1a1a"/><circle cx="258.8" cy="193.34" r="1.55" fill="#ff1a1a"/><circle cx="264.5" cy="199.5" r="1.55" fill="#ff1a1a"/><circle cx="270.2" cy="189.32" r="1.55" fill="#ff1a1a"/><circle cx="275.9" cy="200.57" r="1.55" fill="#ff1a1a"/><circle cx="281.6" cy="200.89" r="1.55" fill="#ff1a1a"/><circle cx="287.3" cy="202.21" r="1.55" fill="#ff1a1a"/><circle cx="293" cy="199.01" r="1.55" fill="#ff1a1a"/><circle cx="298.7" cy="196.71" r="1.55" fill="#ff1a1a"/><circle cx="304.4" cy="202.21" r="1.55" fill="#ff1a1a"/><circle cx="310.1" cy="203.77" r="1.55" fill="#ff1a1a"/><circle cx="315.8" cy="202.21" r="1.55" fill="#ff1a1a"/><circle cx="321.5" cy="191.37" r="1.55" fill="#ff1a1a"/><circle cx="327.2" cy="208.04" r="1.55" fill="#ff1a1a"/><circle cx="332.9" cy="204.34" r="1.55" fill="#ff1a1a"/><circle cx="338.6" cy="196.21" r="1.55" fill="#ff1a1a"/><circle cx="344.3" cy="195.8" r="1.55" fill="#ff1a1a"/><circle cx="350" cy="193.75" r="1.55" fill="#ff1a1a"/><circle cx="355.7" cy="208.78" r="1.55" fill="#ff1a1a"/>
<rect x="220.5" y="147.6" width="102.5" height="18.3" fill="#fff" stroke="#888" stroke-width="0.85"/>
<path d="M223.5 152.18 L241.1 152.18" fill="none" stroke="#1e1ea6" stroke-width="1.25" stroke-linejoin="round"/>
<rect x="230.85" y="150.73" width="2.9" height="2.9" fill="#0c0c70"/>
<text transform="translate(243.1,154.88) scale(0.93,1)" font-size="8.0" text-anchor="start" fill="#1e1e1e">Actual</text>
<path d="M265.6 152.18 L282 152.18" fill="none" stroke="#ff1a1a" stroke-width="1.25" stroke-linejoin="round"/>
<circle cx="273.8" cy="152.18" r="1.55" fill="#ff1a1a"/>
<text transform="translate(283.54,154.88) scale(0.93,1)" font-size="8.0" text-anchor="start" fill="#1e1e1e">CNN</text>
<path d="M223.5 161.69 L241.1 161.69" fill="none" stroke="#3344ff" stroke-width="1.0" stroke-linejoin="round" stroke-dasharray="1.5,1.6"/>
<text transform="translate(243.1,164.39) scale(0.93,1)" font-size="8.0" text-anchor="start" fill="#1e1e1e">LSTM</text>
<path d="M265.6 161.69 L282 161.69" fill="none" stroke="#a4dcdc" stroke-width="0.6" stroke-linejoin="round"/>
<text transform="translate(283.54,164.39) scale(0.93,1)" font-size="8.0" text-anchor="start" fill="#1e1e1e">CNN-LSTM</text>
<text transform="translate(201.39,205.75) rotate(-90) scale(1,0.93)" font-size="7.7" text-anchor="middle" fill="#1e1e1e">Load Consumption (kWh)</text>
<text transform="translate(290.7,269.5) scale(0.93,1)" font-size="8.0" text-anchor="middle" fill="#1e1e1e">Time (hour)</text>
<text transform="translate(285.5,283.6) scale(1.0,1)" font-size="9.5" text-anchor="middle" fill="#1e1e1e">(e)</text></g>
<g><path d="M392.9 145.3 V250.4 H546.1" fill="none" stroke="#222" stroke-width="1"/>
<text transform="translate(388.6,253) scale(0.93,1)" font-size="8.0" text-anchor="end" fill="#1e1e1e">0.0</text>
<text transform="translate(388.6,242.54) scale(0.93,1)" font-size="8.0" text-anchor="end" fill="#1e1e1e">0.2</text>
<text transform="translate(388.6,232.08) scale(0.93,1)" font-size="8.0" text-anchor="end" fill="#1e1e1e">0.4</text>
<text transform="translate(388.6,221.62) scale(0.93,1)" font-size="8.0" text-anchor="end" fill="#1e1e1e">0.6</text>
<text transform="translate(388.6,211.16) scale(0.93,1)" font-size="8.0" text-anchor="end" fill="#1e1e1e">0.8</text>
<text transform="translate(388.6,200.7) scale(0.93,1)" font-size="8.0" text-anchor="end" fill="#1e1e1e">1.0</text>
<text transform="translate(388.6,190.24) scale(0.93,1)" font-size="8.0" text-anchor="end" fill="#1e1e1e">1.2</text>
<text transform="translate(388.6,179.78) scale(0.93,1)" font-size="8.0" text-anchor="end" fill="#1e1e1e">1.4</text>
<text transform="translate(388.6,169.32) scale(0.93,1)" font-size="8.0" text-anchor="end" fill="#1e1e1e">1.6</text>
<text transform="translate(388.6,158.86) scale(0.93,1)" font-size="8.0" text-anchor="end" fill="#1e1e1e">1.8</text>
<text transform="translate(388.6,148.4) scale(0.93,1)" font-size="8.0" text-anchor="end" fill="#1e1e1e">2.0</text>
<text transform="translate(392.9,260.7) scale(0.93,1)" font-size="8.0" text-anchor="middle" fill="#1e1e1e">0</text>
<text transform="translate(405.14,260.7) scale(0.93,1)" font-size="8.0" text-anchor="middle" fill="#1e1e1e">2</text>
<text transform="translate(417.38,260.7) scale(0.93,1)" font-size="8.0" text-anchor="middle" fill="#1e1e1e">4</text>
<text transform="translate(429.62,260.7) scale(0.93,1)" font-size="8.0" text-anchor="middle" fill="#1e1e1e">6</text>
<text transform="translate(441.86,260.7) scale(0.93,1)" font-size="8.0" text-anchor="middle" fill="#1e1e1e">8</text>
<text transform="translate(454.1,260.7) scale(0.93,1)" font-size="8.0" text-anchor="middle" fill="#1e1e1e">10</text>
<text transform="translate(466.34,260.7) scale(0.93,1)" font-size="8.0" text-anchor="middle" fill="#1e1e1e">12</text>
<text transform="translate(478.58,260.7) scale(0.93,1)" font-size="8.0" text-anchor="middle" fill="#1e1e1e">14</text>
<text transform="translate(490.82,260.7) scale(0.93,1)" font-size="8.0" text-anchor="middle" fill="#1e1e1e">16</text>
<text transform="translate(503.06,260.7) scale(0.93,1)" font-size="8.0" text-anchor="middle" fill="#1e1e1e">18</text>
<text transform="translate(515.3,260.7) scale(0.93,1)" font-size="8.0" text-anchor="middle" fill="#1e1e1e">20</text>
<text transform="translate(527.54,260.7) scale(0.93,1)" font-size="8.0" text-anchor="middle" fill="#1e1e1e">22</text>
<text transform="translate(539.78,260.7) scale(0.93,1)" font-size="8.0" text-anchor="middle" fill="#1e1e1e">24</text>
<path d="M390.5 250.4H392.9M391.6 245.17H392.9M390.5 239.94H392.9M391.6 234.71H392.9M390.5 229.48H392.9M391.6 224.25H392.9M390.5 219.02H392.9M391.6 213.79H392.9M390.5 208.56H392.9M391.6 203.33H392.9M390.5 198.1H392.9M391.6 192.87H392.9M390.5 187.64H392.9M391.6 182.41H392.9M390.5 177.18H392.9M391.6 171.95H392.9M390.5 166.72H392.9M391.6 161.49H392.9M390.5 156.26H392.9M391.6 151.03H392.9M390.5 145.8H392.9M392.9 250.4V252.8M399.02 250.4V251.7M405.14 250.4V252.8M411.26 250.4V251.7M417.38 250.4V252.8M423.5 250.4V251.7M429.62 250.4V252.8M435.74 250.4V251.7M441.86 250.4V252.8M447.98 250.4V251.7M454.1 250.4V252.8M460.22 250.4V251.7M466.34 250.4V252.8M472.46 250.4V251.7M478.58 250.4V252.8M484.7 250.4V251.7M490.82 250.4V252.8M496.94 250.4V251.7M503.06 250.4V252.8M509.18 250.4V251.7M515.3 250.4V252.8M521.42 250.4V251.7M527.54 250.4V252.8M533.66 250.4V251.7M539.78 250.4V252.8" stroke="#222" stroke-width="0.9"/>
<path d="M399.02 173.99 L405.14 189.99 L411.26 200.72 L417.38 209.61 L423.5 219.02 L429.62 222.16 L435.74 224.25 L441.86 228.43 L447.98 233.14 L454.1 236.28 L460.22 237.85 L466.34 237.85 L472.46 236.8 L478.58 236.28 L484.7 235.23 L490.82 231.57 L496.94 231.05 L503.06 231.05 L509.18 229.48 L515.3 224.25 L521.42 206.47 L527.54 198.1 L533.66 182.93 L539.78 185.03" fill="none" stroke="#40bcbc" stroke-width="0.75" stroke-linejoin="round" stroke-dasharray="1,1.4"/>
<path d="M399.02 198 L405.14 203.02 L411.26 211.02 L417.38 208.04 L423.5 213.01 L429.62 215.99 L435.74 217.97 L441.86 231 L447.98 238.89 L454.1 238.11 L460.22 239.94 L466.34 242.56 L472.46 241.77 L478.58 238.89 L484.7 236.8 L490.82 242.56 L496.94 243.08 L503.06 235.23 L509.18 227.49 L515.3 220.38 L521.42 208.72 L527.54 201.76 L533.66 168.81 L539.78 177.18" fill="none" stroke="#ff3030" stroke-width="0.95" stroke-linejoin="round" stroke-dasharray="1.8,1.5"/>
<path d="M399.02 193.39 L405.14 191.98 L411.26 198 L417.38 197 L423.5 198.99 L429.62 192.97 L435.74 225.98 L441.86 219.02 L447.98 245.01 L454.1 247 L460.22 239.42 L466.34 239.68 L472.46 232.2 L478.58 232.41 L484.7 231 L490.82 241.61 L496.94 243.91 L503.06 238 L509.18 243.44 L515.3 229.43 L521.42 215.73 L527.54 220.38 L533.66 186.38 L539.78 170.01" fill="none" stroke="#1a2cff" stroke-width="1.25" stroke-linejoin="round"/><path d="M399.02 191.44L400.72 194.57L397.32 194.57Z" fill="#1a2cff"/><path d="M405.14 190.03L406.84 193.15L403.44 193.15Z" fill="#1a2cff"/><path d="M411.26 196.04L412.96 199.17L409.56 199.17Z" fill="#1a2cff"/><path d="M417.38 195.05L419.08 198.17L415.68 198.17Z" fill="#1a2cff"/><path d="M423.5 197.03L425.2 200.16L421.8 200.16Z" fill="#1a2cff"/><path d="M429.62 191.02L431.32 194.15L427.92 194.15Z" fill="#1a2cff"/><path d="M435.74 224.02L437.44 227.15L434.04 227.15Z" fill="#1a2cff"/><path d="M441.86 217.06L443.56 220.19L440.16 220.19Z" fill="#1a2cff"/><path d="M447.98 243.06L449.68 246.19L446.28 246.19Z" fill="#1a2cff"/><path d="M454.1 245.05L455.8 248.17L452.4 248.17Z" fill="#1a2cff"/><path d="M460.22 237.46L461.92 240.59L458.52 240.59Z" fill="#1a2cff"/><path d="M466.34 237.72L468.04 240.85L464.64 240.85Z" fill="#1a2cff"/><path d="M472.46 230.24L474.16 233.37L470.76 233.37Z" fill="#1a2cff"/><path d="M478.58 230.45L480.28 233.58L476.88 233.58Z" fill="#1a2cff"/><path d="M484.7 229.04L486.4 232.17L483 232.17Z" fill="#1a2cff"/><path d="M490.82 239.66L492.52 242.79L489.12 242.79Z" fill="#1a2cff"/><path d="M496.94 241.96L498.64 245.09L495.24 245.09Z" fill="#1a2cff"/><path d="M503.06 236.05L504.76 239.18L501.36 239.18Z" fill="#1a2cff"/><path d="M509.18 241.49L510.88 244.62L507.48 244.62Z" fill="#1a2cff"/><path d="M515.3 227.47L517 230.6L513.6 230.6Z" fill="#1a2cff"/><path d="M521.42 213.77L523.12 216.9L519.72 216.9Z" fill="#1a2cff"/><path d="M527.54 218.42L529.24 221.55L525.84 221.55Z" fill="#1a2cff"/><path d="M533.66 184.43L535.36 187.56L531.96 187.56Z" fill="#1a2cff"/><path d="M539.78 168.06L541.48 171.19L538.08 171.19Z" fill="#1a2cff"/>
<path d="M399.02 178.59 L405.14 186.02 L411.26 197 L417.38 195.38 L423.5 203.59 L429.62 203.59 L435.74 239.99 L441.86 223.99 L447.98 240.99 L454.1 246.01 L460.22 244.59 L466.34 244.02 L472.46 244.59 L478.58 239.21 L484.7 245.17 L490.82 243.44 L496.94 244.59 L503.06 245.17 L509.18 235.7 L515.3 216.93 L521.42 212.22 L527.54 201.71 L533.66 152.81 L539.78 161.7" fill="none" stroke="#1e1ea6" stroke-width="1.25" stroke-linejoin="round"/><rect x="397.57" y="177.14" width="2.9" height="2.9" fill="#0c0c70"/><rect x="403.69" y="184.57" width="2.9" height="2.9" fill="#0c0c70"/><rect x="409.81" y="195.55" width="2.9" height="2.9" fill="#0c0c70"/><rect x="415.93" y="193.93" width="2.9" height="2.9" fill="#0c0c70"/><rect x="422.05" y="202.14" width="2.9" height="2.9" fill="#0c0c70"/><rect x="428.17" y="202.14" width="2.9" height="2.9" fill="#0c0c70"/><rect x="434.29" y="238.54" width="2.9" height="2.9" fill="#0c0c70"/><rect x="440.41" y="222.54" width="2.9" height="2.9" fill="#0c0c70"/><rect x="446.53" y="239.54" width="2.9" height="2.9" fill="#0c0c70"/><rect x="452.65" y="244.56" width="2.9" height="2.9" fill="#0c0c70"/><rect x="458.77" y="243.14" width="2.9" height="2.9" fill="#0c0c70"/><rect x="464.89" y="242.57" width="2.9" height="2.9" fill="#0c0c70"/><rect x="471.01" y="243.14" width="2.9" height="2.9" fill="#0c0c70"/><rect x="477.13" y="237.76" width="2.9" height="2.9" fill="#0c0c70"/><rect x="483.25" y="243.72" width="2.9" height="2.9" fill="#0c0c70"/><rect x="489.37" y="241.99" width="2.9" height="2.9" fill="#0c0c70"/><rect x="495.49" y="243.14" width="2.9" height="2.9" fill="#0c0c70"/><rect x="501.61" y="243.72" width="2.9" height="2.9" fill="#0c0c70"/><rect x="507.73" y="234.25" width="2.9" height="2.9" fill="#0c0c70"/><rect x="513.85" y="215.48" width="2.9" height="2.9" fill="#0c0c70"/><rect x="519.97" y="210.77" width="2.9" height="2.9" fill="#0c0c70"/><rect x="526.09" y="200.26" width="2.9" height="2.9" fill="#0c0c70"/><rect x="532.21" y="151.36" width="2.9" height="2.9" fill="#0c0c70"/><rect x="538.33" y="160.25" width="2.9" height="2.9" fill="#0c0c70"/>
<rect x="394.4" y="142.5" width="109.1" height="18.5" fill="#fff" stroke="#888" stroke-width="0.85"/>
<path d="M397.4 147.12 L415 147.12" fill="none" stroke="#1e1ea6" stroke-width="1.25" stroke-linejoin="round"/>
<rect x="404.75" y="145.68" width="2.9" height="2.9" fill="#0c0c70"/>
<text transform="translate(417,149.82) scale(0.93,1)" font-size="8.0" text-anchor="start" fill="#1e1e1e">Actual</text>
<path d="M442.4 147.12 L459.86 147.12" fill="none" stroke="#ff3030" stroke-width="0.95" stroke-linejoin="round" stroke-dasharray="1.8,1.5"/>
<text transform="translate(461.5,149.82) scale(0.93,1)" font-size="8.0" text-anchor="start" fill="#1e1e1e">CNN</text>
<path d="M397.4 156.75 L415 156.75" fill="none" stroke="#1a2cff" stroke-width="1.25" stroke-linejoin="round"/>
<path d="M406.2 154.79L407.9 157.92L404.5 157.92Z" fill="#1a2cff"/>
<text transform="translate(417,159.44) scale(0.93,1)" font-size="8.0" text-anchor="start" fill="#1e1e1e">LSTM</text>
<path d="M442.4 156.75 L459.86 156.75" fill="none" stroke="#40bcbc" stroke-width="0.75" stroke-linejoin="round" stroke-dasharray="1,1.4"/>
<text transform="translate(461.5,159.44) scale(0.93,1)" font-size="8.0" text-anchor="start" fill="#1e1e1e">CNN-LSTM</text>
<text transform="translate(374.02,202.95) rotate(-90) scale(1,0.93)" font-size="7.5" text-anchor="middle" fill="#1e1e1e" font-family="Liberation Sans, sans-serif">Load Consumption (kWh)</text>
<text transform="translate(470,269) scale(0.93,1)" font-size="8.5" text-anchor="middle" fill="#1e1e1e">Time (hour)</text>
<text transform="translate(463.5,283.7) scale(1.0,1)" font-size="9.5" text-anchor="middle" fill="#1e1e1e">(f)</text></g>
<g><path d="M33.6 294.41 V394.9 H180.6" fill="none" stroke="#222" stroke-width="1"/>
<text transform="translate(29.3,397.5) scale(0.93,1)" font-size="8.0" text-anchor="end" fill="#1e1e1e">0.0</text>
<text transform="translate(29.3,388.41) scale(0.93,1)" font-size="8.0" text-anchor="end" fill="#1e1e1e">0.2</text>
<text transform="translate(29.3,379.32) scale(0.93,1)" font-size="8.0" text-anchor="end" fill="#1e1e1e">0.4</text>
<text transform="translate(29.3,370.23) scale(0.93,1)" font-size="8.0" text-anchor="end" fill="#1e1e1e">0.6</text>
<text transform="translate(29.3,361.14) scale(0.93,1)" font-size="8.0" text-anchor="end" fill="#1e1e1e">0.8</text>
<text transform="translate(29.3,352.05) scale(0.93,1)" font-size="8.0" text-anchor="end" fill="#1e1e1e">1.0</text>
<text transform="translate(29.3,342.96) scale(0.93,1)" font-size="8.0" text-anchor="end" fill="#1e1e1e">1.2</text>
<text transform="translate(29.3,333.87) scale(0.93,1)" font-size="8.0" text-anchor="end" fill="#1e1e1e">1.4</text>
<text transform="translate(29.3,324.78) scale(0.93,1)" font-size="8.0" text-anchor="end" fill="#1e1e1e">1.6</text>
<text transform="translate(29.3,315.69) scale(0.93,1)" font-size="8.0" text-anchor="end" fill="#1e1e1e">1.8</text>
<text transform="translate(29.3,306.6) scale(0.93,1)" font-size="8.0" text-anchor="end" fill="#1e1e1e">2.0</text>
<text transform="translate(29.3,297.51) scale(0.93,1)" font-size="8.0" text-anchor="end" fill="#1e1e1e">2.2</text>
<text transform="translate(33.6,405.2) scale(0.93,1)" font-size="8.0" text-anchor="middle" fill="#1e1e1e">0</text>
<text transform="translate(45.28,405.2) scale(0.93,1)" font-size="8.0" text-anchor="middle" fill="#1e1e1e">2</text>
<text transform="translate(56.96,405.2) scale(0.93,1)" font-size="8.0" text-anchor="middle" fill="#1e1e1e">4</text>
<text transform="translate(68.64,405.2) scale(0.93,1)" font-size="8.0" text-anchor="middle" fill="#1e1e1e">6</text>
<text transform="translate(80.32,405.2) scale(0.93,1)" font-size="8.0" text-anchor="middle" fill="#1e1e1e">8</text>
<text transform="translate(92,405.2) scale(0.93,1)" font-size="8.0" text-anchor="middle" fill="#1e1e1e">10</text>
<text transform="translate(103.68,405.2) scale(0.93,1)" font-size="8.0" text-anchor="middle" fill="#1e1e1e">12</text>
<text transform="translate(115.36,405.2) scale(0.93,1)" font-size="8.0" text-anchor="middle" fill="#1e1e1e">14</text>
<text transform="translate(127.04,405.2) scale(0.93,1)" font-size="8.0" text-anchor="middle" fill="#1e1e1e">16</text>
<text transform="translate(138.72,405.2) scale(0.93,1)" font-size="8.0" text-anchor="middle" fill="#1e1e1e">18</text>
<text transform="translate(150.4,405.2) scale(0.93,1)" font-size="8.0" text-anchor="middle" fill="#1e1e1e">20</text>
<text transform="translate(162.08,405.2) scale(0.93,1)" font-size="8.0" text-anchor="middle" fill="#1e1e1e">22</text>
<text transform="translate(173.76,405.2) scale(0.93,1)" font-size="8.0" text-anchor="middle" fill="#1e1e1e">24</text>
<path d="M31.2 394.9H33.6M32.3 390.35H33.6M31.2 385.81H33.6M32.3 381.26H33.6M31.2 376.72H33.6M32.3 372.17H33.6M31.2 367.63H33.6M32.3 363.08H33.6M31.2 358.54H33.6M32.3 354H33.6M31.2 349.45H33.6M32.3 344.9H33.6M31.2 340.36H33.6M32.3 335.81H33.6M31.2 331.27H33.6M32.3 326.72H33.6M31.2 322.18H33.6M32.3 317.63H33.6M31.2 313.09H33.6M32.3 308.54H33.6M31.2 304H33.6M32.3 299.45H33.6M31.2 294.91H33.6M33.6 394.9V397.3M39.44 394.9V396.2M45.28 394.9V397.3M51.12 394.9V396.2M56.96 394.9V397.3M62.8 394.9V396.2M68.64 394.9V397.3M74.48 394.9V396.2M80.32 394.9V397.3M86.16 394.9V396.2M92 394.9V397.3M97.84 394.9V396.2M103.68 394.9V397.3M109.52 394.9V396.2M115.36 394.9V397.3M121.2 394.9V396.2M127.04 394.9V397.3M132.88 394.9V396.2M138.72 394.9V397.3M144.56 394.9V396.2M150.4 394.9V397.3M156.24 394.9V396.2M162.08 394.9V397.3M167.92 394.9V396.2M173.76 394.9V397.3" stroke="#222" stroke-width="0.9"/>
<path d="M39.44 366.72 L45.28 374.45 L51.12 369.9 L56.96 369.9 L62.8 374.45 L68.64 372.17 L74.48 374.45 L80.32 367.63 L86.16 363.08 L92 376.72 L97.84 372.17 L103.68 366.72 L109.52 366.72 L115.36 366.72 L121.2 366.72 L127.04 365.36 L132.88 367.63 L138.72 363.08 L144.56 342.63 L150.4 351.72 L156.24 349.45 L162.08 347.18 L167.92 344.9 L173.76 349.45" fill="none" stroke="#40bcbc" stroke-width="0.75" stroke-linejoin="round" stroke-dasharray="1,1.4"/>
<path d="M39.44 366.72 L45.28 375.81 L51.12 374.45 L56.96 372.17 L62.8 375.81 L68.64 374.9 L74.48 376.72 L80.32 367.63 L86.16 360.81 L92 378.99 L97.84 375.81 L103.68 363.08 L109.52 367.63 L115.36 367.63 L121.2 367.63 L127.04 359.45 L132.88 377.81 L138.72 363.99 L144.56 328.32 L150.4 335.81 L156.24 329.45 L162.08 343.31 L167.92 323.73 L173.76 341" fill="none" stroke="#3344ff" stroke-width="1.0" stroke-linejoin="round" stroke-dasharray="1.2,1.4"/>
<path d="M39.44 365.08 L45.28 377.72 L51.12 377.72 L56.96 377.72 L62.8 378.4 L68.64 380.08 L74.48 379.81 L80.32 362.72 L86.16 357.72 L92 383.31 L97.84 383.31 L103.68 360.49 L109.52 367.4 L115.36 354.31 L121.2 363.99 L127.04 369.72 L132.88 373.22 L138.72 368.99 L144.56 303.09 L150.4 336.41 L156.24 329 L162.08 362.81 L167.92 347.4 L173.76 349.72" fill="none" stroke="#1e1ea6" stroke-width="1.25" stroke-linejoin="round"/><rect x="37.99" y="363.63" width="2.9" height="2.9" fill="#0c0c70"/><rect x="43.83" y="376.27" width="2.9" height="2.9" fill="#0c0c70"/><rect x="49.67" y="376.27" width="2.9" height="2.9" fill="#0c0c70"/><rect x="55.51" y="376.27" width="2.9" height="2.9" fill="#0c0c70"/><rect x="61.35" y="376.95" width="2.9" height="2.9" fill="#0c0c70"/><rect x="67.19" y="378.63" width="2.9" height="2.9" fill="#0c0c70"/><rect x="73.03" y="378.36" width="2.9" height="2.9" fill="#0c0c70"/><rect x="78.87" y="361.27" width="2.9" height="2.9" fill="#0c0c70"/><rect x="84.71" y="356.27" width="2.9" height="2.9" fill="#0c0c70"/><rect x="90.55" y="381.86" width="2.9" height="2.9" fill="#0c0c70"/><rect x="96.39" y="381.86" width="2.9" height="2.9" fill="#0c0c70"/><rect x="102.23" y="359.04" width="2.9" height="2.9" fill="#0c0c70"/><rect x="108.07" y="365.95" width="2.9" height="2.9" fill="#0c0c70"/><rect x="113.91" y="352.86" width="2.9" height="2.9" fill="#0c0c70"/><rect x="119.75" y="362.54" width="2.9" height="2.9" fill="#0c0c70"/><rect x="125.59" y="368.27" width="2.9" height="2.9" fill="#0c0c70"/><rect x="131.43" y="371.77" width="2.9" height="2.9" fill="#0c0c70"/><rect x="137.27" y="367.54" width="2.9" height="2.9" fill="#0c0c70"/><rect x="143.11" y="301.64" width="2.9" height="2.9" fill="#0c0c70"/><rect x="148.95" y="334.96" width="2.9" height="2.9" fill="#0c0c70"/><rect x="154.79" y="327.55" width="2.9" height="2.9" fill="#0c0c70"/><rect x="160.63" y="361.36" width="2.9" height="2.9" fill="#0c0c70"/><rect x="166.47" y="345.95" width="2.9" height="2.9" fill="#0c0c70"/><rect x="172.31" y="348.27" width="2.9" height="2.9" fill="#0c0c70"/>
<path d="M39.44 361.31 L45.28 375.58 L51.12 370.31 L56.96 373.54 L62.8 376.72 L68.64 369.72 L74.48 374.9 L80.32 372.08 L86.16 363.72 L92 367.22 L97.84 371.72 L103.68 360.49 L109.52 357.49 L115.36 354.31 L121.2 370.9 L127.04 374.31 L132.88 368.99 L138.72 362.81 L144.56 301.41 L150.4 342.09 L156.24 339.81 L162.08 363.49 L167.92 356.59 L173.76 350.18" fill="none" stroke="#ff1a1a" stroke-width="1.25" stroke-linejoin="round"/><circle cx="39.44" cy="361.31" r="1.55" fill="#ff1a1a"/><circle cx="45.28" cy="375.58" r="1.55" fill="#ff1a1a"/><circle cx="51.12" cy="370.31" r="1.55" fill="#ff1a1a"/><circle cx="56.96" cy="373.54" r="1.55" fill="#ff1a1a"/><circle cx="62.8" cy="376.72" r="1.55" fill="#ff1a1a"/><circle cx="68.64" cy="369.72" r="1.55" fill="#ff1a1a"/><circle cx="74.48" cy="374.9" r="1.55" fill="#ff1a1a"/><circle cx="80.32" cy="372.08" r="1.55" fill="#ff1a1a"/><circle cx="86.16" cy="363.72" r="1.55" fill="#ff1a1a"/><circle cx="92" cy="367.22" r="1.55" fill="#ff1a1a"/><circle cx="97.84" cy="371.72" r="1.55" fill="#ff1a1a"/><circle cx="103.68" cy="360.49" r="1.55" fill="#ff1a1a"/><circle cx="109.52" cy="357.49" r="1.55" fill="#ff1a1a"/><circle cx="115.36" cy="354.31" r="1.55" fill="#ff1a1a"/><circle cx="121.2" cy="370.9" r="1.55" fill="#ff1a1a"/><circle cx="127.04" cy="374.31" r="1.55" fill="#ff1a1a"/><circle cx="132.88" cy="368.99" r="1.55" fill="#ff1a1a"/><circle cx="138.72" cy="362.81" r="1.55" fill="#ff1a1a"/><circle cx="144.56" cy="301.41" r="1.55" fill="#ff1a1a"/><circle cx="150.4" cy="342.09" r="1.55" fill="#ff1a1a"/><circle cx="156.24" cy="339.81" r="1.55" fill="#ff1a1a"/><circle cx="162.08" cy="363.49" r="1.55" fill="#ff1a1a"/><circle cx="167.92" cy="356.59" r="1.55" fill="#ff1a1a"/><circle cx="173.76" cy="350.18" r="1.55" fill="#ff1a1a"/>
<rect x="34.8" y="291.4" width="104.3" height="18.5" fill="#fff" stroke="#888" stroke-width="0.85"/>
<path d="M37.8 296.02 L55.4 296.02" fill="none" stroke="#1e1ea6" stroke-width="1.25" stroke-linejoin="round"/>
<rect x="45.15" y="294.57" width="2.9" height="2.9" fill="#0c0c70"/>
<text transform="translate(57.4,298.72) scale(0.93,1)" font-size="8.0" text-anchor="start" fill="#1e1e1e">Actual</text>
<path d="M80.69 296.02 L97.38 296.02" fill="none" stroke="#ff1a1a" stroke-width="1.25" stroke-linejoin="round"/>
<circle cx="89.04" cy="296.02" r="1.55" fill="#ff1a1a"/>
<text transform="translate(98.94,298.72) scale(0.93,1)" font-size="8.0" text-anchor="start" fill="#1e1e1e">CNN</text>
<path d="M37.8 305.64 L55.4 305.64" fill="none" stroke="#3344ff" stroke-width="1.0" stroke-linejoin="round" stroke-dasharray="1.2,1.4"/>
<text transform="translate(57.4,308.34) scale(0.93,1)" font-size="8.0" text-anchor="start" fill="#1e1e1e">LSTM</text>
<path d="M80.69 305.64 L97.38 305.64" fill="none" stroke="#40bcbc" stroke-width="0.75" stroke-linejoin="round" stroke-dasharray="1,1.4"/>
<text transform="translate(98.94,308.34) scale(0.93,1)" font-size="8.0" text-anchor="start" fill="#1e1e1e">CNN-LSTM</text>
<text transform="translate(16.25,349.55) rotate(-90) scale(1,0.93)" font-size="7.85" text-anchor="middle" fill="#1e1e1e">Load Consumption (kWh)</text>
<text transform="translate(107.2,413.8) scale(0.93,1)" font-size="8.2" text-anchor="middle" fill="#1e1e1e">Time (hour)</text>
<text transform="translate(108.5,428.7) scale(1.0,1)" font-size="9.5" text-anchor="middle" fill="#1e1e1e">(g)</text></g>
<g><path d="M218.4 294.9 V395.5 H365" fill="none" stroke="#222" stroke-width="1"/>
<text transform="translate(214.1,398.1) scale(0.93,1)" font-size="8.0" text-anchor="end" fill="#1e1e1e">0.0</text>
<text transform="translate(214.1,389) scale(0.93,1)" font-size="8.0" text-anchor="end" fill="#1e1e1e">0.2</text>
<text transform="translate(214.1,379.9) scale(0.93,1)" font-size="8.0" text-anchor="end" fill="#1e1e1e">0.4</text>
<text transform="translate(214.1,370.8) scale(0.93,1)" font-size="8.0" text-anchor="end" fill="#1e1e1e">0.6</text>
<text transform="translate(214.1,361.7) scale(0.93,1)" font-size="8.0" text-anchor="end" fill="#1e1e1e">0.8</text>
<text transform="translate(214.1,352.6) scale(0.93,1)" font-size="8.0" text-anchor="end" fill="#1e1e1e">1.0</text>
<text transform="translate(214.1,343.5) scale(0.93,1)" font-size="8.0" text-anchor="end" fill="#1e1e1e">1.2</text>
<text transform="translate(214.1,334.4) scale(0.93,1)" font-size="8.0" text-anchor="end" fill="#1e1e1e">1.4</text>
<text transform="translate(214.1,325.3) scale(0.93,1)" font-size="8.0" text-anchor="end" fill="#1e1e1e">1.6</text>
<text transform="translate(214.1,316.2) scale(0.93,1)" font-size="8.0" text-anchor="end" fill="#1e1e1e">1.8</text>
<text transform="translate(214.1,307.1) scale(0.93,1)" font-size="8.0" text-anchor="end" fill="#1e1e1e">2.0</text>
<text transform="translate(214.1,298) scale(0.93,1)" font-size="8.0" text-anchor="end" fill="#1e1e1e">2.2</text>
<text transform="translate(218.4,405.8) scale(0.93,1)" font-size="8.0" text-anchor="middle" fill="#1e1e1e">0</text>
<text transform="translate(230.12,405.8) scale(0.93,1)" font-size="8.0" text-anchor="middle" fill="#1e1e1e">2</text>
<text transform="translate(241.84,405.8) scale(0.93,1)" font-size="8.0" text-anchor="middle" fill="#1e1e1e">4</text>
<text transform="translate(253.56,405.8) scale(0.93,1)" font-size="8.0" text-anchor="middle" fill="#1e1e1e">6</text>
<text transform="translate(265.28,405.8) scale(0.93,1)" font-size="8.0" text-anchor="middle" fill="#1e1e1e">8</text>
<text transform="translate(277,405.8) scale(0.93,1)" font-size="8.0" text-anchor="middle" fill="#1e1e1e">10</text>
<text transform="translate(288.72,405.8) scale(0.93,1)" font-size="8.0" text-anchor="middle" fill="#1e1e1e">12</text>
<text transform="translate(300.44,405.8) scale(0.93,1)" font-size="8.0" text-anchor="middle" fill="#1e1e1e">14</text>
<text transform="translate(312.16,405.8) scale(0.93,1)" font-size="8.0" text-anchor="middle" fill="#1e1e1e">16</text>
<text transform="translate(323.88,405.8) scale(0.93,1)" font-size="8.0" text-anchor="middle" fill="#1e1e1e">18</text>
<text transform="translate(335.6,405.8) scale(0.93,1)" font-size="8.0" text-anchor="middle" fill="#1e1e1e">20</text>
<text transform="translate(347.32,405.8) scale(0.93,1)" font-size="8.0" text-anchor="middle" fill="#1e1e1e">22</text>
<text transform="translate(359.04,405.8) scale(0.93,1)" font-size="8.0" text-anchor="middle" fill="#1e1e1e">24</text>
<path d="M216 395.5H218.4M217.1 390.95H218.4M216 386.4H218.4M217.1 381.85H218.4M216 377.3H218.4M217.1 372.75H218.4M216 368.2H218.4M217.1 363.65H218.4M216 359.1H218.4M217.1 354.55H218.4M216 350H218.4M217.1 345.45H218.4M216 340.9H218.4M217.1 336.35H218.4M216 331.8H218.4M217.1 327.25H218.4M216 322.7H218.4M217.1 318.15H218.4M216 313.6H218.4M217.1 309.05H218.4M216 304.5H218.4M217.1 299.95H218.4M216 295.4H218.4M218.4 395.5V397.9M224.26 395.5V396.8M230.12 395.5V397.9M235.98 395.5V396.8M241.84 395.5V397.9M247.7 395.5V396.8M253.56 395.5V397.9M259.42 395.5V396.8M265.28 395.5V397.9M271.14 395.5V396.8M277 395.5V397.9M282.86 395.5V396.8M288.72 395.5V397.9M294.58 395.5V396.8M300.44 395.5V397.9M306.3 395.5V396.8M312.16 395.5V397.9M318.02 395.5V396.8M323.88 395.5V397.9M329.74 395.5V396.8M335.6 395.5V397.9M341.46 395.5V396.8M347.32 395.5V397.9M353.18 395.5V396.8M359.04 395.5V397.9" stroke="#222" stroke-width="0.9"/>
<path d="M224.26 359.1 L230.12 368.2 L235.98 363.65 L241.84 375.02 L247.7 379.57 L253.56 379.57 L259.42 378.21 L265.28 377.3 L271.14 372.75 L277 377.3 L282.86 381.85 L288.72 379.57 L294.58 381.85 L300.44 377.3 L306.3 376.39 L312.16 379.57 L318.02 377.3 L323.88 379.57 L329.74 381.85 L335.6 379.57 L341.46 350 L347.32 309.05 L353.18 331.8 L359.04 340.9" fill="none" stroke="#40bcbc" stroke-width="0.75" stroke-linejoin="round" stroke-dasharray="1,1.4"/>
<path d="M224.26 354 L230.12 364.51 L235.98 367.29 L241.84 378.48 L247.7 377.3 L253.56 385.49 L259.42 382.76 L265.28 384.12 L271.14 383.67 L277 380.94 L282.86 375.02 L288.72 376.39 L294.58 379.12 L300.44 384.12 L306.3 386.4 L312.16 381.85 L318.02 385.49 L323.88 368.02 L329.74 384.12 L335.6 379.57 L341.46 359.1 L347.32 302.23 L353.18 333.89 L359.04 355.92" fill="none" stroke="#3344ff" stroke-width="1.0" stroke-linejoin="round" stroke-dasharray="1.5,1.6"/>
<path d="M224.26 361.69 L230.12 360.69 L235.98 365.88 L241.84 382.31 L247.7 373.61 L253.56 381.3 L259.42 375.71 L265.28 379.89 L271.14 384.08 L277 385.49 L282.86 385.08 L288.72 381.71 L294.58 380.71 L300.44 383.9 L306.3 384.58 L312.16 380.71 L318.02 378.98 L323.88 380.21 L329.74 381.49 L335.6 381.49 L341.46 348 L347.32 298.49 L353.18 321.7 L359.04 320.52" fill="none" stroke="#1e1ea6" stroke-width="1.25" stroke-linejoin="round"/><rect x="222.81" y="360.24" width="2.9" height="2.9" fill="#0c0c70"/><rect x="228.67" y="359.24" width="2.9" height="2.9" fill="#0c0c70"/><rect x="234.53" y="364.43" width="2.9" height="2.9" fill="#0c0c70"/><rect x="240.39" y="380.86" width="2.9" height="2.9" fill="#0c0c70"/><rect x="246.25" y="372.16" width="2.9" height="2.9" fill="#0c0c70"/><rect x="252.11" y="379.85" width="2.9" height="2.9" fill="#0c0c70"/><rect x="257.97" y="374.26" width="2.9" height="2.9" fill="#0c0c70"/><rect x="263.83" y="378.44" width="2.9" height="2.9" fill="#0c0c70"/><rect x="269.69" y="382.63" width="2.9" height="2.9" fill="#0c0c70"/><rect x="275.55" y="384.04" width="2.9" height="2.9" fill="#0c0c70"/><rect x="281.41" y="383.63" width="2.9" height="2.9" fill="#0c0c70"/><rect x="287.27" y="380.26" width="2.9" height="2.9" fill="#0c0c70"/><rect x="293.13" y="379.26" width="2.9" height="2.9" fill="#0c0c70"/><rect x="298.99" y="382.45" width="2.9" height="2.9" fill="#0c0c70"/><rect x="304.85" y="383.13" width="2.9" height="2.9" fill="#0c0c70"/><rect x="310.71" y="379.26" width="2.9" height="2.9" fill="#0c0c70"/><rect x="316.57" y="377.53" width="2.9" height="2.9" fill="#0c0c70"/><rect x="322.43" y="378.76" width="2.9" height="2.9" fill="#0c0c70"/><rect x="328.29" y="380.04" width="2.9" height="2.9" fill="#0c0c70"/><rect x="334.15" y="380.04" width="2.9" height="2.9" fill="#0c0c70"/><rect x="340.01" y="346.55" width="2.9" height="2.9" fill="#0c0c70"/><rect x="345.87" y="297.04" width="2.9" height="2.9" fill="#0c0c70"/><rect x="351.73" y="320.25" width="2.9" height="2.9" fill="#0c0c70"/><rect x="357.59" y="319.07" width="2.9" height="2.9" fill="#0c0c70"/>
<path d="M224.26 373.3 L230.12 377.12 L235.98 370.52 L241.84 376.39 L247.7 377.8 L253.56 379.89 L259.42 381.99 L265.28 382.71 L271.14 384.49 L277 388.31 L282.86 389.31 L288.72 386.9 L294.58 381.49 L300.44 385.08 L306.3 389.99 L312.16 390.5 L318.02 387.08 L323.88 383.9 L329.74 388.81 L335.6 385.81 L341.46 370.02 L347.32 307 L353.18 341.22 L359.04 336.3" fill="none" stroke="#ff1a1a" stroke-width="1.25" stroke-linejoin="round"/><circle cx="224.26" cy="373.3" r="1.55" fill="#ff1a1a"/><circle cx="230.12" cy="377.12" r="1.55" fill="#ff1a1a"/><circle cx="235.98" cy="370.52" r="1.55" fill="#ff1a1a"/><circle cx="241.84" cy="376.39" r="1.55" fill="#ff1a1a"/><circle cx="247.7" cy="377.8" r="1.55" fill="#ff1a1a"/><circle cx="253.56" cy="379.89" r="1.55" fill="#ff1a1a"/><circle cx="259.42" cy="381.99" r="1.55" fill="#ff1a1a"/><circle cx="265.28" cy="382.71" r="1.55" fill="#ff1a1a"/><circle cx="271.14" cy="384.49" r="1.55" fill="#ff1a1a"/><circle cx="277" cy="388.31" r="1.55" fill="#ff1a1a"/><circle cx="282.86" cy="389.31" r="1.55" fill="#ff1a1a"/><circle cx="288.72" cy="386.9" r="1.55" fill="#ff1a1a"/><circle cx="294.58" cy="381.49" r="1.55" fill="#ff1a1a"/><circle cx="300.44" cy="385.08" r="1.55" fill="#ff1a1a"/><circle cx="306.3" cy="389.99" r="1.55" fill="#ff1a1a"/><circle cx="312.16" cy="390.5" r="1.55" fill="#ff1a1a"/><circle cx="318.02" cy="387.08" r="1.55" fill="#ff1a1a"/><circle cx="323.88" cy="383.9" r="1.55" fill="#ff1a1a"/><circle cx="329.74" cy="388.81" r="1.55" fill="#ff1a1a"/><circle cx="335.6" cy="385.81" r="1.55" fill="#ff1a1a"/><circle cx="341.46" cy="370.02" r="1.55" fill="#ff1a1a"/><circle cx="347.32" cy="307" r="1.55" fill="#ff1a1a"/><circle cx="353.18" cy="341.22" r="1.55" fill="#ff1a1a"/><circle cx="359.04" cy="336.3" r="1.55" fill="#ff1a1a"/>
<rect x="220.5" y="291.8" width="104" height="18.8" fill="#fff" stroke="#888" stroke-width="0.85"/>
<path d="M223.5 296.5 L241.1 296.5" fill="none" stroke="#1e1ea6" stroke-width="1.25" stroke-linejoin="round"/>
<rect x="230.85" y="295.05" width="2.9" height="2.9" fill="#0c0c70"/>
<text transform="translate(243.1,299.2) scale(0.93,1)" font-size="8.0" text-anchor="start" fill="#1e1e1e">Actual</text>
<path d="M266.26 296.5 L282.9 296.5" fill="none" stroke="#ff1a1a" stroke-width="1.25" stroke-linejoin="round"/>
<circle cx="274.58" cy="296.5" r="1.55" fill="#ff1a1a"/>
<text transform="translate(284.46,299.2) scale(0.93,1)" font-size="8.0" text-anchor="start" fill="#1e1e1e">CNN</text>
<path d="M223.5 306.28 L241.1 306.28" fill="none" stroke="#3344ff" stroke-width="1.0" stroke-linejoin="round" stroke-dasharray="1.5,1.6"/>
<text transform="translate(243.1,308.98) scale(0.93,1)" font-size="8.0" text-anchor="start" fill="#1e1e1e">LSTM</text>
<path d="M266.26 306.28 L282.9 306.28" fill="none" stroke="#40bcbc" stroke-width="0.75" stroke-linejoin="round" stroke-dasharray="1,1.4"/>
<text transform="translate(284.46,308.98) scale(0.93,1)" font-size="8.0" text-anchor="start" fill="#1e1e1e">CNN-LSTM</text>
<text transform="translate(201.71,350.2) rotate(-90) scale(1,0.93)" font-size="7.75" text-anchor="middle" fill="#1e1e1e">Load Consumption (kWh)</text>
<text transform="translate(291.8,415.6) scale(0.93,1)" font-size="8.0" text-anchor="middle" fill="#1e1e1e">Time (hour)</text>
<text transform="translate(300.5,430.7) scale(1.0,1)" font-size="9.5" text-anchor="middle" fill="#1e1e1e">(h)</text></g>
<g><path d="M393.2 294.6 V394.7 H541.3" fill="none" stroke="#222" stroke-width="1"/>
<text transform="translate(388.9,397.3) scale(0.93,1)" font-size="8.0" text-anchor="end" fill="#1e1e1e">0.0</text>
<text transform="translate(388.9,387.34) scale(0.93,1)" font-size="8.0" text-anchor="end" fill="#1e1e1e">0.3</text>
<text transform="translate(388.9,377.38) scale(0.93,1)" font-size="8.0" text-anchor="end" fill="#1e1e1e">0.6</text>
<text transform="translate(388.9,367.42) scale(0.93,1)" font-size="8.0" text-anchor="end" fill="#1e1e1e">0.9</text>
<text transform="translate(388.9,357.46) scale(0.93,1)" font-size="8.0" text-anchor="end" fill="#1e1e1e">1.2</text>
<text transform="translate(388.9,347.5) scale(0.93,1)" font-size="8.0" text-anchor="end" fill="#1e1e1e">1.5</text>
<text transform="translate(388.9,337.54) scale(0.93,1)" font-size="8.0" text-anchor="end" fill="#1e1e1e">1.8</text>
<text transform="translate(388.9,327.58) scale(0.93,1)" font-size="8.0" text-anchor="end" fill="#1e1e1e">2.1</text>
<text transform="translate(388.9,317.62) scale(0.93,1)" font-size="8.0" text-anchor="end" fill="#1e1e1e">2.4</text>
<text transform="translate(388.9,307.66) scale(0.93,1)" font-size="8.0" text-anchor="end" fill="#1e1e1e">2.7</text>
<text transform="translate(388.9,297.7) scale(0.93,1)" font-size="8.0" text-anchor="end" fill="#1e1e1e">3.0</text>
<text transform="translate(393.2,405) scale(0.93,1)" font-size="8.0" text-anchor="middle" fill="#1e1e1e">0</text>
<text transform="translate(405.04,405) scale(0.93,1)" font-size="8.0" text-anchor="middle" fill="#1e1e1e">2</text>
<text transform="translate(416.88,405) scale(0.93,1)" font-size="8.0" text-anchor="middle" fill="#1e1e1e">4</text>
<text transform="translate(428.72,405) scale(0.93,1)" font-size="8.0" text-anchor="middle" fill="#1e1e1e">6</text>
<text transform="translate(440.56,405) scale(0.93,1)" font-size="8.0" text-anchor="middle" fill="#1e1e1e">8</text>
<text transform="translate(452.4,405) scale(0.93,1)" font-size="8.0" text-anchor="middle" fill="#1e1e1e">10</text>
<text transform="translate(464.24,405) scale(0.93,1)" font-size="8.0" text-anchor="middle" fill="#1e1e1e">12</text>
<text transform="translate(476.08,405) scale(0.93,1)" font-size="8.0" text-anchor="middle" fill="#1e1e1e">14</text>
<text transform="translate(487.92,405) scale(0.93,1)" font-size="8.0" text-anchor="middle" fill="#1e1e1e">16</text>
<text transform="translate(499.76,405) scale(0.93,1)" font-size="8.0" text-anchor="middle" fill="#1e1e1e">18</text>
<text transform="translate(511.6,405) scale(0.93,1)" font-size="8.0" text-anchor="middle" fill="#1e1e1e">20</text>
<text transform="translate(523.44,405) scale(0.93,1)" font-size="8.0" text-anchor="middle" fill="#1e1e1e">22</text>
<text transform="translate(535.28,405) scale(0.93,1)" font-size="8.0" text-anchor="middle" fill="#1e1e1e">24</text>
<path d="M390.8 394.7H393.2M391.9 389.72H393.2M390.8 384.74H393.2M391.9 379.76H393.2M390.8 374.78H393.2M391.9 369.8H393.2M390.8 364.82H393.2M391.9 359.84H393.2M390.8 354.86H393.2M391.9 349.88H393.2M390.8 344.9H393.2M391.9 339.92H393.2M390.8 334.94H393.2M391.9 329.96H393.2M390.8 324.98H393.2M391.9 320H393.2M390.8 315.02H393.2M391.9 310.04H393.2M390.8 305.06H393.2M391.9 300.08H393.2M390.8 295.1H393.2M393.2 394.7V397.1M399.12 394.7V396M405.04 394.7V397.1M410.96 394.7V396M416.88 394.7V397.1M422.8 394.7V396M428.72 394.7V397.1M434.64 394.7V396M440.56 394.7V397.1M446.48 394.7V396M452.4 394.7V397.1M458.32 394.7V396M464.24 394.7V397.1M470.16 394.7V396M476.08 394.7V397.1M482 394.7V396M487.92 394.7V397.1M493.84 394.7V396M499.76 394.7V397.1M505.68 394.7V396M511.6 394.7V397.1M517.52 394.7V396M523.44 394.7V397.1M529.36 394.7V396M535.28 394.7V397.1" stroke="#222" stroke-width="0.9"/>
<path d="M399.12 321.66 L405.04 379.76 L410.96 384.74 L416.88 386.4 L422.8 387.4 L428.72 386.4 L434.64 384.08 L440.56 382.08 L446.48 379.76 L452.4 384.08 L458.32 383.74 L464.24 381.42 L470.16 379.76 L476.08 378.1 L482 381.42 L487.92 351.54 L493.84 366.48 L499.76 369.8 L505.68 376.44 L511.6 381.42 L517.52 378.1 L523.44 358.18 L529.36 328.3 L535.28 368.14" fill="none" stroke="#a4dcdc" stroke-width="0.6" stroke-linejoin="round"/>
<path d="M399.12 318.34 L405.04 381.42 L410.96 387.4 L416.88 389.06 L422.8 394.7 L428.72 388.72 L434.64 383.08 L440.56 381.42 L446.48 378.1 L452.4 384.74 L458.32 385.74 L464.24 384.74 L470.16 383.08 L476.08 379.76 L482 383.08 L487.92 348.22 L493.84 366.48 L499.76 374.78 L505.68 381.42 L511.6 385.4 L517.52 376.44 L523.44 351.54 L529.36 318.34 L535.28 371.46" fill="none" stroke="#3344ff" stroke-width="1.0" stroke-linejoin="round" stroke-dasharray="1.5,1.6"/>
<path d="M399.12 312.13 L405.04 380.49 L410.96 386.1 L416.88 388.29 L422.8 388.29 L428.72 387.2 L434.64 385.01 L440.56 384.31 L446.48 375.51 L452.4 383.81 L458.32 383.81 L464.24 379.89 L470.16 378.43 L476.08 376.21 L482 381.79 L487.92 346.39 L493.84 384.01 L499.76 384.61 L505.68 385.11 L511.6 385.11 L517.52 385.11 L523.44 344.2 L529.36 304 L535.28 368.01" fill="none" stroke="#1e1ea6" stroke-width="1.25" stroke-linejoin="round"/><rect x="397.67" y="310.68" width="2.9" height="2.9" fill="#0c0c70"/><rect x="403.59" y="379.04" width="2.9" height="2.9" fill="#0c0c70"/><rect x="409.51" y="384.65" width="2.9" height="2.9" fill="#0c0c70"/><rect x="415.43" y="386.84" width="2.9" height="2.9" fill="#0c0c70"/><rect x="421.35" y="386.84" width="2.9" height="2.9" fill="#0c0c70"/><rect x="427.27" y="385.75" width="2.9" height="2.9" fill="#0c0c70"/><rect x="433.19" y="383.56" width="2.9" height="2.9" fill="#0c0c70"/><rect x="439.11" y="382.86" width="2.9" height="2.9" fill="#0c0c70"/><rect x="445.03" y="374.06" width="2.9" height="2.9" fill="#0c0c70"/><rect x="450.95" y="382.36" width="2.9" height="2.9" fill="#0c0c70"/><rect x="456.87" y="382.36" width="2.9" height="2.9" fill="#0c0c70"/><rect x="462.79" y="378.44" width="2.9" height="2.9" fill="#0c0c70"/><rect x="468.71" y="376.98" width="2.9" height="2.9" fill="#0c0c70"/><rect x="474.63" y="374.76" width="2.9" height="2.9" fill="#0c0c70"/><rect x="480.55" y="380.34" width="2.9" height="2.9" fill="#0c0c70"/><rect x="486.47" y="344.94" width="2.9" height="2.9" fill="#0c0c70"/><rect x="492.39" y="382.56" width="2.9" height="2.9" fill="#0c0c70"/><rect x="498.31" y="383.16" width="2.9" height="2.9" fill="#0c0c70"/><rect x="504.23" y="383.66" width="2.9" height="2.9" fill="#0c0c70"/><rect x="510.15" y="383.66" width="2.9" height="2.9" fill="#0c0c70"/><rect x="516.07" y="383.66" width="2.9" height="2.9" fill="#0c0c70"/><rect x="521.99" y="342.75" width="2.9" height="2.9" fill="#0c0c70"/><rect x="527.91" y="302.55" width="2.9" height="2.9" fill="#0c0c70"/><rect x="533.83" y="366.56" width="2.9" height="2.9" fill="#0c0c70"/>
<path d="M399.12 322.09 L405.04 378.3 L410.96 380.49 L416.88 383.41 L422.8 385.01 L428.72 384.31 L434.64 379.39 L440.56 380.49 L446.48 376.81 L452.4 382.08 L458.32 385.01 L464.24 382.75 L470.16 380.59 L476.08 378.43 L482 381.79 L487.92 342.01 L493.84 378.43 L499.76 377.77 L505.68 378.1 L511.6 375.61 L517.52 368.51 L523.44 356.29 L529.36 313.29 L535.28 375.78" fill="none" stroke="#ff1a1a" stroke-width="1.25" stroke-linejoin="round"/><circle cx="399.12" cy="322.09" r="1.55" fill="#ff1a1a"/><circle cx="405.04" cy="378.3" r="1.55" fill="#ff1a1a"/><circle cx="410.96" cy="380.49" r="1.55" fill="#ff1a1a"/><circle cx="416.88" cy="383.41" r="1.55" fill="#ff1a1a"/><circle cx="422.8" cy="385.01" r="1.55" fill="#ff1a1a"/><circle cx="428.72" cy="384.31" r="1.55" fill="#ff1a1a"/><circle cx="434.64" cy="379.39" r="1.55" fill="#ff1a1a"/><circle cx="440.56" cy="380.49" r="1.55" fill="#ff1a1a"/><circle cx="446.48" cy="376.81" r="1.55" fill="#ff1a1a"/><circle cx="452.4" cy="382.08" r="1.55" fill="#ff1a1a"/><circle cx="458.32" cy="385.01" r="1.55" fill="#ff1a1a"/><circle cx="464.24" cy="382.75" r="1.55" fill="#ff1a1a"/><circle cx="470.16" cy="380.59" r="1.55" fill="#ff1a1a"/><circle cx="476.08" cy="378.43" r="1.55" fill="#ff1a1a"/><circle cx="482" cy="381.79" r="1.55" fill="#ff1a1a"/><circle cx="487.92" cy="342.01" r="1.55" fill="#ff1a1a"/><circle cx="493.84" cy="378.43" r="1.55" fill="#ff1a1a"/><circle cx="499.76" cy="377.77" r="1.55" fill="#ff1a1a"/><circle cx="505.68" cy="378.1" r="1.55" fill="#ff1a1a"/><circle cx="511.6" cy="375.61" r="1.55" fill="#ff1a1a"/><circle cx="517.52" cy="368.51" r="1.55" fill="#ff1a1a"/><circle cx="523.44" cy="356.29" r="1.55" fill="#ff1a1a"/><circle cx="529.36" cy="313.29" r="1.55" fill="#ff1a1a"/><circle cx="535.28" cy="375.78" r="1.55" fill="#ff1a1a"/>
<rect x="394.8" y="290.5" width="106" height="18.7" fill="#fff" stroke="#888" stroke-width="0.85"/>
<path d="M397.8 295.18 L415.4 295.18" fill="none" stroke="#1e1ea6" stroke-width="1.25" stroke-linejoin="round"/>
<rect x="405.15" y="293.73" width="2.9" height="2.9" fill="#0c0c70"/>
<text transform="translate(417.4,297.88) scale(0.93,1)" font-size="8.0" text-anchor="start" fill="#1e1e1e">Actual</text>
<path d="M441.44 295.18 L458.4 295.18" fill="none" stroke="#ff1a1a" stroke-width="1.25" stroke-linejoin="round"/>
<circle cx="449.92" cy="295.18" r="1.55" fill="#ff1a1a"/>
<text transform="translate(459.99,297.88) scale(0.93,1)" font-size="8.0" text-anchor="start" fill="#1e1e1e">CNN</text>
<path d="M397.8 304.9 L415.4 304.9" fill="none" stroke="#3344ff" stroke-width="1.0" stroke-linejoin="round" stroke-dasharray="1.5,1.6"/>
<text transform="translate(417.4,307.6) scale(0.93,1)" font-size="8.0" text-anchor="start" fill="#1e1e1e">LSTM</text>
<path d="M441.44 304.9 L458.4 304.9" fill="none" stroke="#a4dcdc" stroke-width="0.6" stroke-linejoin="round"/>
<text transform="translate(459.99,307.6) scale(0.93,1)" font-size="8.0" text-anchor="start" fill="#1e1e1e">CNN-LSTM</text>
<text transform="translate(375.23,349.2) rotate(-90) scale(1,0.93)" font-size="7.8" text-anchor="middle" fill="#1e1e1e">Load Consumption (kWh)</text>
<text transform="translate(467.8,414.8) scale(0.93,1)" font-size="8.3" text-anchor="middle" fill="#1e1e1e">Time (hour)</text>
<text transform="translate(472.5,430.6) scale(1.0,1)" font-size="9.5" text-anchor="middle" fill="#1e1e1e">(i)</text></g>
</svg></body></html>
